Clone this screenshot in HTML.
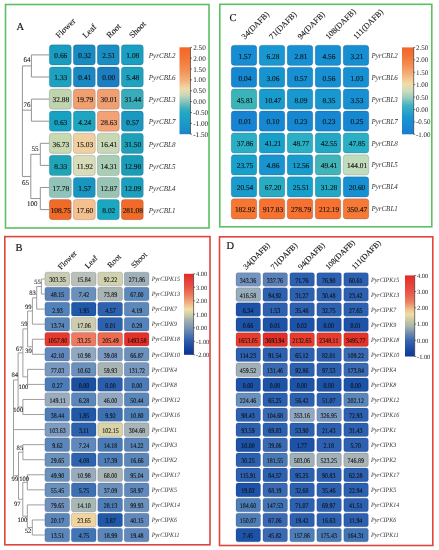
<!DOCTYPE html><html><head><meta charset="utf-8"><style>
html,body{margin:0;padding:0;background:#fff;width:439px;height:550px;overflow:hidden}
svg{display:block;font-family:"Liberation Serif", serif;text-rendering:geometricPrecision;filter:blur(0.35px)}
</style></head><body>
<svg width="439" height="550" viewBox="0 0 439 550">
<rect width="439" height="550" fill="#fff"/>
<rect x="5.5" y="4.5" width="203.5" height="223.5" fill="none" stroke="#5cc062" stroke-width="1.6"/>
<rect x="219.8" y="4.3" width="212" height="222.5" fill="none" stroke="#5cc062" stroke-width="1.6"/>
<rect x="4.8" y="236.6" width="205.2" height="308.2" fill="none" stroke="#e0443a" stroke-width="1.6"/>
<rect x="219.5" y="236.8" width="213.3" height="308.7" fill="none" stroke="#e0443a" stroke-width="1.6"/>
<text x="16.6" y="30.2" font-size="10.5" fill="#111" stroke="#111" stroke-width="0.15">A</text>
<text x="229.6" y="20.6" font-size="10.5" fill="#111" stroke="#111" stroke-width="0.15">C</text>
<text x="15.4" y="251.4" font-size="10.5" fill="#111" stroke="#111" stroke-width="0.15">B</text>
<text x="226.6" y="249.0" font-size="10.5" fill="#111" stroke="#111" stroke-width="0.15">D</text>
<rect x="49.30" y="44.80" width="22.0" height="20.2" rx="3" fill="#1a9cc0" stroke="rgba(0,20,60,0.2)" stroke-width="0.8"/>
<rect x="73.30" y="44.80" width="22.0" height="20.2" rx="3" fill="#188bc0" stroke="rgba(0,20,60,0.2)" stroke-width="0.8"/>
<rect x="97.30" y="44.80" width="22.0" height="20.2" rx="3" fill="#1a8ec2" stroke="rgba(0,20,60,0.2)" stroke-width="0.8"/>
<rect x="121.30" y="44.80" width="22.0" height="20.2" rx="3" fill="#1a9ec2" stroke="rgba(0,20,60,0.2)" stroke-width="0.8"/>
<rect x="49.30" y="66.90" width="22.0" height="20.2" rx="3" fill="#1ca2c0" stroke="rgba(0,20,60,0.2)" stroke-width="0.8"/>
<rect x="73.30" y="66.90" width="22.0" height="20.2" rx="3" fill="#1a88c2" stroke="rgba(0,20,60,0.2)" stroke-width="0.8"/>
<rect x="97.30" y="66.90" width="22.0" height="20.2" rx="3" fill="#1a7ec0" stroke="rgba(0,20,60,0.2)" stroke-width="0.8"/>
<rect x="121.30" y="66.90" width="22.0" height="20.2" rx="3" fill="#1ea2c0" stroke="rgba(0,20,60,0.2)" stroke-width="0.8"/>
<rect x="49.30" y="89.00" width="22.0" height="20.2" rx="3" fill="#c0d4b0" stroke="rgba(0,20,60,0.2)" stroke-width="0.8"/>
<rect x="73.30" y="89.00" width="22.0" height="20.2" rx="3" fill="#f0a070" stroke="rgba(0,20,60,0.2)" stroke-width="0.8"/>
<rect x="97.30" y="89.00" width="22.0" height="20.2" rx="3" fill="#f0a070" stroke="rgba(0,20,60,0.2)" stroke-width="0.8"/>
<rect x="121.30" y="89.00" width="22.0" height="20.2" rx="3" fill="#38acb8" stroke="rgba(0,20,60,0.2)" stroke-width="0.8"/>
<rect x="49.30" y="111.10" width="22.0" height="20.2" rx="3" fill="#18a2c2" stroke="rgba(0,20,60,0.2)" stroke-width="0.8"/>
<rect x="73.30" y="111.10" width="22.0" height="20.2" rx="3" fill="#1ea6c0" stroke="rgba(0,20,60,0.2)" stroke-width="0.8"/>
<rect x="97.30" y="111.10" width="22.0" height="20.2" rx="3" fill="#f2a274" stroke="rgba(0,20,60,0.2)" stroke-width="0.8"/>
<rect x="121.30" y="111.10" width="22.0" height="20.2" rx="3" fill="#1a98c0" stroke="rgba(0,20,60,0.2)" stroke-width="0.8"/>
<rect x="49.30" y="133.20" width="22.0" height="20.2" rx="3" fill="#c8d8b0" stroke="rgba(0,20,60,0.2)" stroke-width="0.8"/>
<rect x="73.30" y="133.20" width="22.0" height="20.2" rx="3" fill="#f0d0a0" stroke="rgba(0,20,60,0.2)" stroke-width="0.8"/>
<rect x="97.30" y="133.20" width="22.0" height="20.2" rx="3" fill="#c8d8b4" stroke="rgba(0,20,60,0.2)" stroke-width="0.8"/>
<rect x="121.30" y="133.20" width="22.0" height="20.2" rx="3" fill="#1ea0b8" stroke="rgba(0,20,60,0.2)" stroke-width="0.8"/>
<rect x="49.30" y="155.30" width="22.0" height="20.2" rx="3" fill="#20a4b8" stroke="rgba(0,20,60,0.2)" stroke-width="0.8"/>
<rect x="73.30" y="155.30" width="22.0" height="20.2" rx="3" fill="#d8dcb8" stroke="rgba(0,20,60,0.2)" stroke-width="0.8"/>
<rect x="97.30" y="155.30" width="22.0" height="20.2" rx="3" fill="#a8ccb4" stroke="rgba(0,20,60,0.2)" stroke-width="0.8"/>
<rect x="121.30" y="155.30" width="22.0" height="20.2" rx="3" fill="#189cb8" stroke="rgba(0,20,60,0.2)" stroke-width="0.8"/>
<rect x="49.30" y="177.40" width="22.0" height="20.2" rx="3" fill="#90c4b8" stroke="rgba(0,20,60,0.2)" stroke-width="0.8"/>
<rect x="73.30" y="177.40" width="22.0" height="20.2" rx="3" fill="#1896c0" stroke="rgba(0,20,60,0.2)" stroke-width="0.8"/>
<rect x="97.30" y="177.40" width="22.0" height="20.2" rx="3" fill="#98c4b4" stroke="rgba(0,20,60,0.2)" stroke-width="0.8"/>
<rect x="121.30" y="177.40" width="22.0" height="20.2" rx="3" fill="#1aa0bc" stroke="rgba(0,20,60,0.2)" stroke-width="0.8"/>
<rect x="49.30" y="199.50" width="22.0" height="20.2" rx="3" fill="#f06a28" stroke="rgba(0,20,60,0.2)" stroke-width="0.8"/>
<rect x="73.30" y="199.50" width="22.0" height="20.2" rx="3" fill="#f4c090" stroke="rgba(0,20,60,0.2)" stroke-width="0.8"/>
<rect x="97.30" y="199.50" width="22.0" height="20.2" rx="3" fill="#1aa8c0" stroke="rgba(0,20,60,0.2)" stroke-width="0.8"/>
<rect x="121.30" y="199.50" width="22.0" height="20.2" rx="3" fill="#f06a28" stroke="rgba(0,20,60,0.2)" stroke-width="0.8"/>
<text transform="translate(60.80 58.28) scale(0.97 1)" font-size="7.6" text-anchor="middle" fill="#111" stroke="#111" stroke-width="0.12">0.66</text>
<text transform="translate(84.80 58.28) scale(0.97 1)" font-size="7.6" text-anchor="middle" fill="#111" stroke="#111" stroke-width="0.12">0.32</text>
<text transform="translate(108.80 58.28) scale(0.97 1)" font-size="7.6" text-anchor="middle" fill="#111" stroke="#111" stroke-width="0.12">2.51</text>
<text transform="translate(132.80 58.28) scale(0.97 1)" font-size="7.6" text-anchor="middle" fill="#111" stroke="#111" stroke-width="0.12">1.08</text>
<text transform="translate(60.80 80.38) scale(0.97 1)" font-size="7.6" text-anchor="middle" fill="#111" stroke="#111" stroke-width="0.12">1.33</text>
<text transform="translate(84.80 80.38) scale(0.97 1)" font-size="7.6" text-anchor="middle" fill="#111" stroke="#111" stroke-width="0.12">0.41</text>
<text transform="translate(108.80 80.38) scale(0.97 1)" font-size="7.6" text-anchor="middle" fill="#111" stroke="#111" stroke-width="0.12">0.00</text>
<text transform="translate(132.80 80.38) scale(0.97 1)" font-size="7.6" text-anchor="middle" fill="#111" stroke="#111" stroke-width="0.12">5.48</text>
<text transform="translate(60.80 102.48) scale(0.97 1)" font-size="7.6" text-anchor="middle" fill="#111" stroke="#111" stroke-width="0.12">32.88</text>
<text transform="translate(84.80 102.48) scale(0.97 1)" font-size="7.6" text-anchor="middle" fill="#111" stroke="#111" stroke-width="0.12">19.79</text>
<text transform="translate(108.80 102.48) scale(0.97 1)" font-size="7.6" text-anchor="middle" fill="#111" stroke="#111" stroke-width="0.12">30.01</text>
<text transform="translate(132.80 102.48) scale(0.97 1)" font-size="7.6" text-anchor="middle" fill="#111" stroke="#111" stroke-width="0.12">31.44</text>
<text transform="translate(60.80 124.58) scale(0.97 1)" font-size="7.6" text-anchor="middle" fill="#111" stroke="#111" stroke-width="0.12">0.63</text>
<text transform="translate(84.80 124.58) scale(0.97 1)" font-size="7.6" text-anchor="middle" fill="#111" stroke="#111" stroke-width="0.12">4.24</text>
<text transform="translate(108.80 124.58) scale(0.97 1)" font-size="7.6" text-anchor="middle" fill="#111" stroke="#111" stroke-width="0.12">28.63</text>
<text transform="translate(132.80 124.58) scale(0.97 1)" font-size="7.6" text-anchor="middle" fill="#111" stroke="#111" stroke-width="0.12">0.57</text>
<text transform="translate(60.80 146.68) scale(0.97 1)" font-size="7.6" text-anchor="middle" fill="#111" stroke="#111" stroke-width="0.12">36.73</text>
<text transform="translate(84.80 146.68) scale(0.97 1)" font-size="7.6" text-anchor="middle" fill="#111" stroke="#111" stroke-width="0.12">15.03</text>
<text transform="translate(108.80 146.68) scale(0.97 1)" font-size="7.6" text-anchor="middle" fill="#111" stroke="#111" stroke-width="0.12">16.41</text>
<text transform="translate(132.80 146.68) scale(0.97 1)" font-size="7.6" text-anchor="middle" fill="#111" stroke="#111" stroke-width="0.12">31.50</text>
<text transform="translate(60.80 168.78) scale(0.97 1)" font-size="7.6" text-anchor="middle" fill="#111" stroke="#111" stroke-width="0.12">8.33</text>
<text transform="translate(84.80 168.78) scale(0.97 1)" font-size="7.6" text-anchor="middle" fill="#111" stroke="#111" stroke-width="0.12">11.92</text>
<text transform="translate(108.80 168.78) scale(0.97 1)" font-size="7.6" text-anchor="middle" fill="#111" stroke="#111" stroke-width="0.12">14.31</text>
<text transform="translate(132.80 168.78) scale(0.97 1)" font-size="7.6" text-anchor="middle" fill="#111" stroke="#111" stroke-width="0.12">12.98</text>
<text transform="translate(60.80 190.88) scale(0.97 1)" font-size="7.6" text-anchor="middle" fill="#111" stroke="#111" stroke-width="0.12">17.78</text>
<text transform="translate(84.80 190.88) scale(0.97 1)" font-size="7.6" text-anchor="middle" fill="#111" stroke="#111" stroke-width="0.12">1.57</text>
<text transform="translate(108.80 190.88) scale(0.97 1)" font-size="7.6" text-anchor="middle" fill="#111" stroke="#111" stroke-width="0.12">12.87</text>
<text transform="translate(132.80 190.88) scale(0.97 1)" font-size="7.6" text-anchor="middle" fill="#111" stroke="#111" stroke-width="0.12">12.09</text>
<text transform="translate(60.80 212.98) scale(0.97 1)" font-size="7.6" text-anchor="middle" fill="#111" stroke="#111" stroke-width="0.12">108.75</text>
<text transform="translate(84.80 212.98) scale(0.97 1)" font-size="7.6" text-anchor="middle" fill="#111" stroke="#111" stroke-width="0.12">17.60</text>
<text transform="translate(108.80 212.98) scale(0.97 1)" font-size="7.6" text-anchor="middle" fill="#111" stroke="#111" stroke-width="0.12">8.02</text>
<text transform="translate(132.80 212.98) scale(0.97 1)" font-size="7.6" text-anchor="middle" fill="#111" stroke="#111" stroke-width="0.12">281.08</text>
<text transform="translate(148.8 58.10) scale(0.94 1)" font-size="7.5" font-style="italic" fill="#333">PyrCBL2</text>
<text transform="translate(148.8 80.20) scale(0.94 1)" font-size="7.5" font-style="italic" fill="#333">PyrCBL6</text>
<text transform="translate(148.8 102.30) scale(0.94 1)" font-size="7.5" font-style="italic" fill="#333">PyrCBL3</text>
<text transform="translate(148.8 124.40) scale(0.94 1)" font-size="7.5" font-style="italic" fill="#333">PyrCBL7</text>
<text transform="translate(148.8 146.50) scale(0.94 1)" font-size="7.5" font-style="italic" fill="#333">PyrCBL8</text>
<text transform="translate(148.8 168.60) scale(0.94 1)" font-size="7.5" font-style="italic" fill="#333">PyrCBL5</text>
<text transform="translate(148.8 190.70) scale(0.94 1)" font-size="7.5" font-style="italic" fill="#333">PyrCBL4</text>
<text transform="translate(148.8 212.80) scale(0.94 1)" font-size="7.5" font-style="italic" fill="#333">PyrCBL1</text>
<text x="59.10" y="38.60" font-size="8.5" transform="rotate(-45 59.10 38.60)" fill="#111" stroke="#111" stroke-width="0.1">Flower</text>
<text x="85.80" y="38.60" font-size="8.5" transform="rotate(-45 85.80 38.60)" fill="#111" stroke="#111" stroke-width="0.1">Leaf</text>
<text x="109.80" y="38.60" font-size="8.5" transform="rotate(-45 109.80 38.60)" fill="#111" stroke="#111" stroke-width="0.1">Root</text>
<text x="132.40" y="38.60" font-size="8.5" transform="rotate(-45 132.40 38.60)" fill="#111" stroke="#111" stroke-width="0.1">Shoot</text>
<defs><linearGradient id="gA" x1="0" y1="0" x2="0" y2="1">
<stop offset="0" stop-color="#f46428"/>
<stop offset="0.12" stop-color="#f47434"/>
<stop offset="0.25" stop-color="#f48c50"/>
<stop offset="0.38" stop-color="#f4b07c"/>
<stop offset="0.48" stop-color="#eedca8"/>
<stop offset="0.55" stop-color="#c8d8b8"/>
<stop offset="0.625" stop-color="#88c4b8"/>
<stop offset="0.7" stop-color="#40b0c0"/>
<stop offset="0.75" stop-color="#20a8c4"/>
<stop offset="0.875" stop-color="#1a9ac8"/>
<stop offset="1" stop-color="#1a84c8"/>
</linearGradient></defs>
<rect x="179.5" y="47.3" width="11" height="86.89999999999999" fill="url(#gA)"/>
<line x1="190.50" y1="47.3" x2="190.50" y2="134.2" stroke="#222" stroke-width="0.6"/>
<line x1="190.50" y1="47.30" x2="192.00" y2="47.30" stroke="#222" stroke-width="0.6"/>
<text x="193.2" y="49.82" font-size="7.2" fill="#222">2.50</text>
<line x1="190.50" y1="58.16" x2="192.00" y2="58.16" stroke="#222" stroke-width="0.6"/>
<text x="193.2" y="60.68" font-size="7.2" fill="#222">2.00</text>
<line x1="190.50" y1="69.02" x2="192.00" y2="69.02" stroke="#222" stroke-width="0.6"/>
<text x="193.2" y="71.54" font-size="7.2" fill="#222">1.50</text>
<line x1="190.50" y1="79.89" x2="192.00" y2="79.89" stroke="#222" stroke-width="0.6"/>
<text x="193.2" y="82.41" font-size="7.2" fill="#222">1.00</text>
<line x1="190.50" y1="90.75" x2="192.00" y2="90.75" stroke="#222" stroke-width="0.6"/>
<text x="193.2" y="93.27" font-size="7.2" fill="#222">0.50</text>
<line x1="190.50" y1="101.61" x2="192.00" y2="101.61" stroke="#222" stroke-width="0.6"/>
<text x="193.2" y="104.13" font-size="7.2" fill="#222">0.00</text>
<line x1="190.50" y1="112.47" x2="192.00" y2="112.47" stroke="#222" stroke-width="0.6"/>
<text x="193.2" y="114.99" font-size="7.2" fill="#222">-0.50</text>
<line x1="190.50" y1="123.34" x2="192.00" y2="123.34" stroke="#222" stroke-width="0.6"/>
<text x="193.2" y="125.86" font-size="7.2" fill="#222">-1.00</text>
<line x1="190.50" y1="134.20" x2="192.00" y2="134.20" stroke="#222" stroke-width="0.6"/>
<text x="193.2" y="136.72" font-size="7.2" fill="#222">-1.50</text>
<g stroke="#939393" stroke-width="1" fill="none">
<line x1="31.40" y1="54.90" x2="49.30" y2="54.90"/>
<line x1="31.40" y1="77.00" x2="49.30" y2="77.00"/>
<line x1="31.40" y1="54.90" x2="31.40" y2="77.00"/>
<line x1="22.40" y1="65.95" x2="31.40" y2="65.95"/>
<line x1="31.40" y1="99.10" x2="49.30" y2="99.10"/>
<line x1="31.40" y1="121.20" x2="49.30" y2="121.20"/>
<line x1="31.40" y1="99.10" x2="31.40" y2="121.20"/>
<line x1="22.40" y1="110.15" x2="31.40" y2="110.15"/>
<line x1="40.30" y1="143.30" x2="49.30" y2="143.30"/>
<line x1="40.30" y1="165.40" x2="49.30" y2="165.40"/>
<line x1="40.30" y1="143.30" x2="40.30" y2="165.40"/>
<line x1="30.80" y1="154.35" x2="40.30" y2="154.35"/>
<line x1="40.30" y1="187.50" x2="49.30" y2="187.50"/>
<line x1="40.30" y1="209.60" x2="49.30" y2="209.60"/>
<line x1="40.30" y1="187.50" x2="40.30" y2="209.60"/>
<line x1="30.80" y1="198.55" x2="40.30" y2="198.55"/>
<line x1="30.80" y1="154.35" x2="30.80" y2="198.55"/>
<line x1="22.40" y1="176.45" x2="30.80" y2="176.45"/>
<line x1="22.40" y1="65.95" x2="22.40" y2="176.45"/>
</g>
<text x="30.40" y="61.65" font-size="7" text-anchor="end" fill="#111" stroke="#111" stroke-width="0.08">64</text>
<text x="30.40" y="106.95" font-size="7" text-anchor="end" fill="#111" stroke="#111" stroke-width="0.08">76</text>
<text x="38.60" y="150.75" font-size="7" text-anchor="end" fill="#111" stroke="#111" stroke-width="0.08">55</text>
<text x="29.00" y="185.45" font-size="7" text-anchor="end" fill="#111" stroke="#111" stroke-width="0.08">65</text>
<text x="37.60" y="206.45" font-size="7" text-anchor="end" fill="#111" stroke="#111" stroke-width="0.08">100</text>
<rect x="231.20" y="45.20" width="25.6" height="20.2" rx="3" fill="#168cd2" stroke="rgba(0,20,60,0.2)" stroke-width="0.8"/>
<rect x="259.20" y="45.20" width="25.6" height="20.2" rx="3" fill="#1898d0" stroke="rgba(0,20,60,0.2)" stroke-width="0.8"/>
<rect x="287.20" y="45.20" width="25.6" height="20.2" rx="3" fill="#1690d2" stroke="rgba(0,20,60,0.2)" stroke-width="0.8"/>
<rect x="315.20" y="45.20" width="25.6" height="20.2" rx="3" fill="#1690d2" stroke="rgba(0,20,60,0.2)" stroke-width="0.8"/>
<rect x="343.20" y="45.20" width="25.6" height="20.2" rx="3" fill="#168ed2" stroke="rgba(0,20,60,0.2)" stroke-width="0.8"/>
<rect x="231.20" y="67.13" width="25.6" height="20.2" rx="3" fill="#1688d2" stroke="rgba(0,20,60,0.2)" stroke-width="0.8"/>
<rect x="259.20" y="67.13" width="25.6" height="20.2" rx="3" fill="#1694d0" stroke="rgba(0,20,60,0.2)" stroke-width="0.8"/>
<rect x="287.20" y="67.13" width="25.6" height="20.2" rx="3" fill="#1690d2" stroke="rgba(0,20,60,0.2)" stroke-width="0.8"/>
<rect x="315.20" y="67.13" width="25.6" height="20.2" rx="3" fill="#1690d2" stroke="rgba(0,20,60,0.2)" stroke-width="0.8"/>
<rect x="343.20" y="67.13" width="25.6" height="20.2" rx="3" fill="#1690d2" stroke="rgba(0,20,60,0.2)" stroke-width="0.8"/>
<rect x="231.20" y="89.06" width="25.6" height="20.2" rx="3" fill="#3ab4b8" stroke="rgba(0,20,60,0.2)" stroke-width="0.8"/>
<rect x="259.20" y="89.06" width="25.6" height="20.2" rx="3" fill="#189cce" stroke="rgba(0,20,60,0.2)" stroke-width="0.8"/>
<rect x="287.20" y="89.06" width="25.6" height="20.2" rx="3" fill="#1898d0" stroke="rgba(0,20,60,0.2)" stroke-width="0.8"/>
<rect x="315.20" y="89.06" width="25.6" height="20.2" rx="3" fill="#1898d0" stroke="rgba(0,20,60,0.2)" stroke-width="0.8"/>
<rect x="343.20" y="89.06" width="25.6" height="20.2" rx="3" fill="#1690d2" stroke="rgba(0,20,60,0.2)" stroke-width="0.8"/>
<rect x="231.20" y="110.99" width="25.6" height="20.2" rx="3" fill="#1684d2" stroke="rgba(0,20,60,0.2)" stroke-width="0.8"/>
<rect x="259.20" y="110.99" width="25.6" height="20.2" rx="3" fill="#1688d2" stroke="rgba(0,20,60,0.2)" stroke-width="0.8"/>
<rect x="287.20" y="110.99" width="25.6" height="20.2" rx="3" fill="#1688d2" stroke="rgba(0,20,60,0.2)" stroke-width="0.8"/>
<rect x="315.20" y="110.99" width="25.6" height="20.2" rx="3" fill="#1688d2" stroke="rgba(0,20,60,0.2)" stroke-width="0.8"/>
<rect x="343.20" y="110.99" width="25.6" height="20.2" rx="3" fill="#1688d2" stroke="rgba(0,20,60,0.2)" stroke-width="0.8"/>
<rect x="231.20" y="132.92" width="25.6" height="20.2" rx="3" fill="#2aaec4" stroke="rgba(0,20,60,0.2)" stroke-width="0.8"/>
<rect x="259.20" y="132.92" width="25.6" height="20.2" rx="3" fill="#18a0cc" stroke="rgba(0,20,60,0.2)" stroke-width="0.8"/>
<rect x="287.20" y="132.92" width="25.6" height="20.2" rx="3" fill="#2ab0c4" stroke="rgba(0,20,60,0.2)" stroke-width="0.8"/>
<rect x="315.20" y="132.92" width="25.6" height="20.2" rx="3" fill="#22a8c4" stroke="rgba(0,20,60,0.2)" stroke-width="0.8"/>
<rect x="343.20" y="132.92" width="25.6" height="20.2" rx="3" fill="#2ab0c4" stroke="rgba(0,20,60,0.2)" stroke-width="0.8"/>
<rect x="231.20" y="154.85" width="25.6" height="20.2" rx="3" fill="#18a0cc" stroke="rgba(0,20,60,0.2)" stroke-width="0.8"/>
<rect x="259.20" y="154.85" width="25.6" height="20.2" rx="3" fill="#1894d0" stroke="rgba(0,20,60,0.2)" stroke-width="0.8"/>
<rect x="287.20" y="154.85" width="25.6" height="20.2" rx="3" fill="#189cce" stroke="rgba(0,20,60,0.2)" stroke-width="0.8"/>
<rect x="315.20" y="154.85" width="25.6" height="20.2" rx="3" fill="#40b4b8" stroke="rgba(0,20,60,0.2)" stroke-width="0.8"/>
<rect x="343.20" y="154.85" width="25.6" height="20.2" rx="3" fill="#c0dcbc" stroke="rgba(0,20,60,0.2)" stroke-width="0.8"/>
<rect x="231.20" y="176.78" width="25.6" height="20.2" rx="3" fill="#189cce" stroke="rgba(0,20,60,0.2)" stroke-width="0.8"/>
<rect x="259.20" y="176.78" width="25.6" height="20.2" rx="3" fill="#28acc4" stroke="rgba(0,20,60,0.2)" stroke-width="0.8"/>
<rect x="287.20" y="176.78" width="25.6" height="20.2" rx="3" fill="#18a0cc" stroke="rgba(0,20,60,0.2)" stroke-width="0.8"/>
<rect x="315.20" y="176.78" width="25.6" height="20.2" rx="3" fill="#22a8c4" stroke="rgba(0,20,60,0.2)" stroke-width="0.8"/>
<rect x="343.20" y="176.78" width="25.6" height="20.2" rx="3" fill="#1690d2" stroke="rgba(0,20,60,0.2)" stroke-width="0.8"/>
<rect x="231.20" y="198.71" width="25.6" height="20.2" rx="3" fill="#f67632" stroke="rgba(0,20,60,0.2)" stroke-width="0.8"/>
<rect x="259.20" y="198.71" width="25.6" height="20.2" rx="3" fill="#f77230" stroke="rgba(0,20,60,0.2)" stroke-width="0.8"/>
<rect x="287.20" y="198.71" width="25.6" height="20.2" rx="3" fill="#f77230" stroke="rgba(0,20,60,0.2)" stroke-width="0.8"/>
<rect x="315.20" y="198.71" width="25.6" height="20.2" rx="3" fill="#f77230" stroke="rgba(0,20,60,0.2)" stroke-width="0.8"/>
<rect x="343.20" y="198.71" width="25.6" height="20.2" rx="3" fill="#f67a36" stroke="rgba(0,20,60,0.2)" stroke-width="0.8"/>
<text transform="translate(245.00 58.68) scale(0.97 1)" font-size="7.6" text-anchor="middle" fill="#111" stroke="#111" stroke-width="0.12">1.57</text>
<text transform="translate(273.00 58.68) scale(0.97 1)" font-size="7.6" text-anchor="middle" fill="#111" stroke="#111" stroke-width="0.12">6.28</text>
<text transform="translate(301.00 58.68) scale(0.97 1)" font-size="7.6" text-anchor="middle" fill="#111" stroke="#111" stroke-width="0.12">2.81</text>
<text transform="translate(329.00 58.68) scale(0.97 1)" font-size="7.6" text-anchor="middle" fill="#111" stroke="#111" stroke-width="0.12">4.56</text>
<text transform="translate(357.00 58.68) scale(0.97 1)" font-size="7.6" text-anchor="middle" fill="#111" stroke="#111" stroke-width="0.12">3.21</text>
<text transform="translate(245.00 80.61) scale(0.97 1)" font-size="7.6" text-anchor="middle" fill="#111" stroke="#111" stroke-width="0.12">0.04</text>
<text transform="translate(273.00 80.61) scale(0.97 1)" font-size="7.6" text-anchor="middle" fill="#111" stroke="#111" stroke-width="0.12">3.06</text>
<text transform="translate(301.00 80.61) scale(0.97 1)" font-size="7.6" text-anchor="middle" fill="#111" stroke="#111" stroke-width="0.12">0.57</text>
<text transform="translate(329.00 80.61) scale(0.97 1)" font-size="7.6" text-anchor="middle" fill="#111" stroke="#111" stroke-width="0.12">0.56</text>
<text transform="translate(357.00 80.61) scale(0.97 1)" font-size="7.6" text-anchor="middle" fill="#111" stroke="#111" stroke-width="0.12">1.03</text>
<text transform="translate(245.00 102.54) scale(0.97 1)" font-size="7.6" text-anchor="middle" fill="#111" stroke="#111" stroke-width="0.12">45.81</text>
<text transform="translate(273.00 102.54) scale(0.97 1)" font-size="7.6" text-anchor="middle" fill="#111" stroke="#111" stroke-width="0.12">10.47</text>
<text transform="translate(301.00 102.54) scale(0.97 1)" font-size="7.6" text-anchor="middle" fill="#111" stroke="#111" stroke-width="0.12">8.09</text>
<text transform="translate(329.00 102.54) scale(0.97 1)" font-size="7.6" text-anchor="middle" fill="#111" stroke="#111" stroke-width="0.12">8.35</text>
<text transform="translate(357.00 102.54) scale(0.97 1)" font-size="7.6" text-anchor="middle" fill="#111" stroke="#111" stroke-width="0.12">3.53</text>
<text transform="translate(245.00 124.47) scale(0.97 1)" font-size="7.6" text-anchor="middle" fill="#111" stroke="#111" stroke-width="0.12">0.01</text>
<text transform="translate(273.00 124.47) scale(0.97 1)" font-size="7.6" text-anchor="middle" fill="#111" stroke="#111" stroke-width="0.12">0.10</text>
<text transform="translate(301.00 124.47) scale(0.97 1)" font-size="7.6" text-anchor="middle" fill="#111" stroke="#111" stroke-width="0.12">0.23</text>
<text transform="translate(329.00 124.47) scale(0.97 1)" font-size="7.6" text-anchor="middle" fill="#111" stroke="#111" stroke-width="0.12">0.23</text>
<text transform="translate(357.00 124.47) scale(0.97 1)" font-size="7.6" text-anchor="middle" fill="#111" stroke="#111" stroke-width="0.12">0.25</text>
<text transform="translate(245.00 146.40) scale(0.97 1)" font-size="7.6" text-anchor="middle" fill="#111" stroke="#111" stroke-width="0.12">37.86</text>
<text transform="translate(273.00 146.40) scale(0.97 1)" font-size="7.6" text-anchor="middle" fill="#111" stroke="#111" stroke-width="0.12">41.21</text>
<text transform="translate(301.00 146.40) scale(0.97 1)" font-size="7.6" text-anchor="middle" fill="#111" stroke="#111" stroke-width="0.12">48.77</text>
<text transform="translate(329.00 146.40) scale(0.97 1)" font-size="7.6" text-anchor="middle" fill="#111" stroke="#111" stroke-width="0.12">42.55</text>
<text transform="translate(357.00 146.40) scale(0.97 1)" font-size="7.6" text-anchor="middle" fill="#111" stroke="#111" stroke-width="0.12">47.85</text>
<text transform="translate(245.00 168.33) scale(0.97 1)" font-size="7.6" text-anchor="middle" fill="#111" stroke="#111" stroke-width="0.12">23.75</text>
<text transform="translate(273.00 168.33) scale(0.97 1)" font-size="7.6" text-anchor="middle" fill="#111" stroke="#111" stroke-width="0.12">4.86</text>
<text transform="translate(301.00 168.33) scale(0.97 1)" font-size="7.6" text-anchor="middle" fill="#111" stroke="#111" stroke-width="0.12">12.56</text>
<text transform="translate(329.00 168.33) scale(0.97 1)" font-size="7.6" text-anchor="middle" fill="#111" stroke="#111" stroke-width="0.12">49.41</text>
<text transform="translate(357.00 168.33) scale(0.97 1)" font-size="7.6" text-anchor="middle" fill="#111" stroke="#111" stroke-width="0.12">144.01</text>
<text transform="translate(245.00 190.26) scale(0.97 1)" font-size="7.6" text-anchor="middle" fill="#111" stroke="#111" stroke-width="0.12">20.54</text>
<text transform="translate(273.00 190.26) scale(0.97 1)" font-size="7.6" text-anchor="middle" fill="#111" stroke="#111" stroke-width="0.12">67.20</text>
<text transform="translate(301.00 190.26) scale(0.97 1)" font-size="7.6" text-anchor="middle" fill="#111" stroke="#111" stroke-width="0.12">25.51</text>
<text transform="translate(329.00 190.26) scale(0.97 1)" font-size="7.6" text-anchor="middle" fill="#111" stroke="#111" stroke-width="0.12">31.28</text>
<text transform="translate(357.00 190.26) scale(0.97 1)" font-size="7.6" text-anchor="middle" fill="#111" stroke="#111" stroke-width="0.12">20.60</text>
<text transform="translate(245.00 212.19) scale(0.97 1)" font-size="7.6" text-anchor="middle" fill="#111" stroke="#111" stroke-width="0.12">182.92</text>
<text transform="translate(273.00 212.19) scale(0.97 1)" font-size="7.6" text-anchor="middle" fill="#111" stroke="#111" stroke-width="0.12">917.83</text>
<text transform="translate(301.00 212.19) scale(0.97 1)" font-size="7.6" text-anchor="middle" fill="#111" stroke="#111" stroke-width="0.12">278.79</text>
<text transform="translate(329.00 212.19) scale(0.97 1)" font-size="7.6" text-anchor="middle" fill="#111" stroke="#111" stroke-width="0.12">212.19</text>
<text transform="translate(357.00 212.19) scale(0.97 1)" font-size="7.6" text-anchor="middle" fill="#111" stroke="#111" stroke-width="0.12">350.47</text>
<text transform="translate(371.4 57.80) scale(0.93 1)" font-size="7.5" font-style="italic" fill="#333">PyrCBL2</text>
<text transform="translate(371.4 79.73) scale(0.93 1)" font-size="7.5" font-style="italic" fill="#333">PyrCBL6</text>
<text transform="translate(371.4 101.66) scale(0.93 1)" font-size="7.5" font-style="italic" fill="#333">PyrCBL3</text>
<text transform="translate(371.4 123.59) scale(0.93 1)" font-size="7.5" font-style="italic" fill="#333">PyrCBL7</text>
<text transform="translate(371.4 145.52) scale(0.93 1)" font-size="7.5" font-style="italic" fill="#333">PyrCBL8</text>
<text transform="translate(371.4 167.45) scale(0.93 1)" font-size="7.5" font-style="italic" fill="#333">PyrCBL5</text>
<text transform="translate(371.4 189.38) scale(0.93 1)" font-size="7.5" font-style="italic" fill="#333">PyrCBL4</text>
<text transform="translate(371.4 211.31) scale(0.93 1)" font-size="7.5" font-style="italic" fill="#333">PyrCBL1</text>
<text x="244.80" y="39.70" font-size="8.1" transform="rotate(-45 244.80 39.70)" fill="#111" stroke="#111" stroke-width="0.1">34(DAFB)</text>
<text x="272.30" y="39.70" font-size="8.1" transform="rotate(-45 272.30 39.70)" fill="#111" stroke="#111" stroke-width="0.1">71(DAFB)</text>
<text x="300.70" y="39.70" font-size="8.1" transform="rotate(-45 300.70 39.70)" fill="#111" stroke="#111" stroke-width="0.1">94(DAFB)</text>
<text x="328.70" y="39.70" font-size="8.1" transform="rotate(-45 328.70 39.70)" fill="#111" stroke="#111" stroke-width="0.1">108(DAFB)</text>
<text x="356.40" y="39.70" font-size="8.1" transform="rotate(-45 356.40 39.70)" fill="#111" stroke="#111" stroke-width="0.1">111(DAFB)</text>
<defs><linearGradient id="gC" x1="0" y1="0" x2="0" y2="1">
<stop offset="0" stop-color="#f46428"/>
<stop offset="0.1" stop-color="#f47434"/>
<stop offset="0.2" stop-color="#f48c50"/>
<stop offset="0.31" stop-color="#f4b07c"/>
<stop offset="0.42" stop-color="#f0dca8"/>
<stop offset="0.5" stop-color="#d0dcbc"/>
<stop offset="0.58" stop-color="#98ccc0"/>
<stop offset="0.67" stop-color="#40b0c4"/>
<stop offset="0.8" stop-color="#1a98d0"/>
<stop offset="1" stop-color="#1a7cd0"/>
</linearGradient></defs>
<rect x="402.0" y="47.4" width="11.7" height="86.9" fill="url(#gC)"/>
<line x1="413.70" y1="47.4" x2="413.70" y2="134.3" stroke="#222" stroke-width="0.6"/>
<line x1="413.70" y1="47.40" x2="415.20" y2="47.40" stroke="#222" stroke-width="0.6"/>
<text x="416" y="49.85" font-size="7" fill="#222">2.50</text>
<line x1="413.70" y1="59.81" x2="415.20" y2="59.81" stroke="#222" stroke-width="0.6"/>
<text x="416" y="62.26" font-size="7" fill="#222">2.00</text>
<line x1="413.70" y1="72.23" x2="415.20" y2="72.23" stroke="#222" stroke-width="0.6"/>
<text x="416" y="74.68" font-size="7" fill="#222">1.50</text>
<line x1="413.70" y1="84.64" x2="415.20" y2="84.64" stroke="#222" stroke-width="0.6"/>
<text x="416" y="87.09" font-size="7" fill="#222">1.00</text>
<line x1="413.70" y1="97.06" x2="415.20" y2="97.06" stroke="#222" stroke-width="0.6"/>
<text x="416" y="99.51" font-size="7" fill="#222">0.50</text>
<line x1="413.70" y1="109.47" x2="415.20" y2="109.47" stroke="#222" stroke-width="0.6"/>
<text x="416" y="111.92" font-size="7" fill="#222">0.00</text>
<line x1="413.70" y1="121.89" x2="415.20" y2="121.89" stroke="#222" stroke-width="0.6"/>
<text x="416" y="124.34" font-size="7" fill="#222">-0.50</text>
<line x1="413.70" y1="134.30" x2="415.20" y2="134.30" stroke="#222" stroke-width="0.6"/>
<text x="416" y="136.75" font-size="7" fill="#222">-1.00</text>
<rect x="44.90" y="272.20" width="24.7" height="13.6" rx="2" fill="#c8ccb2" stroke="rgba(0,20,60,0.2)" stroke-width="0.8"/>
<rect x="71.35" y="272.20" width="24.7" height="13.6" rx="2" fill="#b8c0b8" stroke="rgba(0,20,60,0.2)" stroke-width="0.8"/>
<rect x="97.80" y="272.20" width="24.7" height="13.6" rx="2" fill="#d0d2ae" stroke="rgba(0,20,60,0.2)" stroke-width="0.8"/>
<rect x="124.25" y="272.20" width="24.7" height="13.6" rx="2" fill="#a0b0b8" stroke="rgba(0,20,60,0.2)" stroke-width="0.8"/>
<rect x="44.90" y="287.26" width="24.7" height="13.6" rx="2" fill="#5a84b8" stroke="rgba(0,20,60,0.2)" stroke-width="0.8"/>
<rect x="71.35" y="287.26" width="24.7" height="13.6" rx="2" fill="#6a90bc" stroke="rgba(0,20,60,0.2)" stroke-width="0.8"/>
<rect x="97.80" y="287.26" width="24.7" height="13.6" rx="2" fill="#a8b4b4" stroke="rgba(0,20,60,0.2)" stroke-width="0.8"/>
<rect x="124.25" y="287.26" width="24.7" height="13.6" rx="2" fill="#5a88bc" stroke="rgba(0,20,60,0.2)" stroke-width="0.8"/>
<rect x="44.90" y="302.32" width="24.7" height="13.6" rx="2" fill="#5282ba" stroke="rgba(0,20,60,0.2)" stroke-width="0.8"/>
<rect x="71.35" y="302.32" width="24.7" height="13.6" rx="2" fill="#2058a8" stroke="rgba(0,20,60,0.2)" stroke-width="0.8"/>
<rect x="97.80" y="302.32" width="24.7" height="13.6" rx="2" fill="#2c62ae" stroke="rgba(0,20,60,0.2)" stroke-width="0.8"/>
<rect x="124.25" y="302.32" width="24.7" height="13.6" rx="2" fill="#5c88bc" stroke="rgba(0,20,60,0.2)" stroke-width="0.8"/>
<rect x="44.90" y="317.38" width="24.7" height="13.6" rx="2" fill="#5a86ba" stroke="rgba(0,20,60,0.2)" stroke-width="0.8"/>
<rect x="71.35" y="317.38" width="24.7" height="13.6" rx="2" fill="#ccccb0" stroke="rgba(0,20,60,0.2)" stroke-width="0.8"/>
<rect x="97.80" y="317.38" width="24.7" height="13.6" rx="2" fill="#2c62ae" stroke="rgba(0,20,60,0.2)" stroke-width="0.8"/>
<rect x="124.25" y="317.38" width="24.7" height="13.6" rx="2" fill="#5482ba" stroke="rgba(0,20,60,0.2)" stroke-width="0.8"/>
<rect x="44.90" y="332.44" width="24.7" height="13.6" rx="2" fill="#e83a2c" stroke="rgba(0,20,60,0.2)" stroke-width="0.8"/>
<rect x="71.35" y="332.44" width="24.7" height="13.6" rx="2" fill="#ee7a60" stroke="rgba(0,20,60,0.2)" stroke-width="0.8"/>
<rect x="97.80" y="332.44" width="24.7" height="13.6" rx="2" fill="#ec6a50" stroke="rgba(0,20,60,0.2)" stroke-width="0.8"/>
<rect x="124.25" y="332.44" width="24.7" height="13.6" rx="2" fill="#e43028" stroke="rgba(0,20,60,0.2)" stroke-width="0.8"/>
<rect x="44.90" y="347.50" width="24.7" height="13.6" rx="2" fill="#6088bc" stroke="rgba(0,20,60,0.2)" stroke-width="0.8"/>
<rect x="71.35" y="347.50" width="24.7" height="13.6" rx="2" fill="#90a8c0" stroke="rgba(0,20,60,0.2)" stroke-width="0.8"/>
<rect x="97.80" y="347.50" width="24.7" height="13.6" rx="2" fill="#7a98c0" stroke="rgba(0,20,60,0.2)" stroke-width="0.8"/>
<rect x="124.25" y="347.50" width="24.7" height="13.6" rx="2" fill="#6a90bc" stroke="rgba(0,20,60,0.2)" stroke-width="0.8"/>
<rect x="44.90" y="362.56" width="24.7" height="13.6" rx="2" fill="#7898c0" stroke="rgba(0,20,60,0.2)" stroke-width="0.8"/>
<rect x="71.35" y="362.56" width="24.7" height="13.6" rx="2" fill="#6a90bc" stroke="rgba(0,20,60,0.2)" stroke-width="0.8"/>
<rect x="97.80" y="362.56" width="24.7" height="13.6" rx="2" fill="#a8b4b4" stroke="rgba(0,20,60,0.2)" stroke-width="0.8"/>
<rect x="124.25" y="362.56" width="24.7" height="13.6" rx="2" fill="#7898c0" stroke="rgba(0,20,60,0.2)" stroke-width="0.8"/>
<rect x="44.90" y="377.62" width="24.7" height="13.6" rx="2" fill="#4c7cb8" stroke="rgba(0,20,60,0.2)" stroke-width="0.8"/>
<rect x="71.35" y="377.62" width="24.7" height="13.6" rx="2" fill="#1a50a0" stroke="rgba(0,20,60,0.2)" stroke-width="0.8"/>
<rect x="97.80" y="377.62" width="24.7" height="13.6" rx="2" fill="#2a5eac" stroke="rgba(0,20,60,0.2)" stroke-width="0.8"/>
<rect x="124.25" y="377.62" width="24.7" height="13.6" rx="2" fill="#4c7cb8" stroke="rgba(0,20,60,0.2)" stroke-width="0.8"/>
<rect x="44.90" y="392.68" width="24.7" height="13.6" rx="2" fill="#98acbc" stroke="rgba(0,20,60,0.2)" stroke-width="0.8"/>
<rect x="71.35" y="392.68" width="24.7" height="13.6" rx="2" fill="#5a86ba" stroke="rgba(0,20,60,0.2)" stroke-width="0.8"/>
<rect x="97.80" y="392.68" width="24.7" height="13.6" rx="2" fill="#90a8c0" stroke="rgba(0,20,60,0.2)" stroke-width="0.8"/>
<rect x="124.25" y="392.68" width="24.7" height="13.6" rx="2" fill="#5a86ba" stroke="rgba(0,20,60,0.2)" stroke-width="0.8"/>
<rect x="44.90" y="407.74" width="24.7" height="13.6" rx="2" fill="#4e7eb8" stroke="rgba(0,20,60,0.2)" stroke-width="0.8"/>
<rect x="71.35" y="407.74" width="24.7" height="13.6" rx="2" fill="#2058a8" stroke="rgba(0,20,60,0.2)" stroke-width="0.8"/>
<rect x="97.80" y="407.74" width="24.7" height="13.6" rx="2" fill="#3c70b2" stroke="rgba(0,20,60,0.2)" stroke-width="0.8"/>
<rect x="124.25" y="407.74" width="24.7" height="13.6" rx="2" fill="#5082ba" stroke="rgba(0,20,60,0.2)" stroke-width="0.8"/>
<rect x="44.90" y="422.80" width="24.7" height="13.6" rx="2" fill="#7e9cc0" stroke="rgba(0,20,60,0.2)" stroke-width="0.8"/>
<rect x="71.35" y="422.80" width="24.7" height="13.6" rx="2" fill="#2a60ac" stroke="rgba(0,20,60,0.2)" stroke-width="0.8"/>
<rect x="97.80" y="422.80" width="24.7" height="13.6" rx="2" fill="#d8d4a8" stroke="rgba(0,20,60,0.2)" stroke-width="0.8"/>
<rect x="124.25" y="422.80" width="24.7" height="13.6" rx="2" fill="#a8b4b8" stroke="rgba(0,20,60,0.2)" stroke-width="0.8"/>
<rect x="44.90" y="437.86" width="24.7" height="13.6" rx="2" fill="#5a86ba" stroke="rgba(0,20,60,0.2)" stroke-width="0.8"/>
<rect x="71.35" y="437.86" width="24.7" height="13.6" rx="2" fill="#6088bc" stroke="rgba(0,20,60,0.2)" stroke-width="0.8"/>
<rect x="97.80" y="437.86" width="24.7" height="13.6" rx="2" fill="#4a7ab6" stroke="rgba(0,20,60,0.2)" stroke-width="0.8"/>
<rect x="124.25" y="437.86" width="24.7" height="13.6" rx="2" fill="#5a86ba" stroke="rgba(0,20,60,0.2)" stroke-width="0.8"/>
<rect x="44.90" y="452.92" width="24.7" height="13.6" rx="2" fill="#6a90bc" stroke="rgba(0,20,60,0.2)" stroke-width="0.8"/>
<rect x="71.35" y="452.92" width="24.7" height="13.6" rx="2" fill="#2c62ae" stroke="rgba(0,20,60,0.2)" stroke-width="0.8"/>
<rect x="97.80" y="452.92" width="24.7" height="13.6" rx="2" fill="#4e7eb8" stroke="rgba(0,20,60,0.2)" stroke-width="0.8"/>
<rect x="124.25" y="452.92" width="24.7" height="13.6" rx="2" fill="#5a86ba" stroke="rgba(0,20,60,0.2)" stroke-width="0.8"/>
<rect x="44.90" y="467.98" width="24.7" height="13.6" rx="2" fill="#6a90bc" stroke="rgba(0,20,60,0.2)" stroke-width="0.8"/>
<rect x="71.35" y="467.98" width="24.7" height="13.6" rx="2" fill="#9aacbc" stroke="rgba(0,20,60,0.2)" stroke-width="0.8"/>
<rect x="97.80" y="467.98" width="24.7" height="13.6" rx="2" fill="#a8b4b4" stroke="rgba(0,20,60,0.2)" stroke-width="0.8"/>
<rect x="124.25" y="467.98" width="24.7" height="13.6" rx="2" fill="#6a90bc" stroke="rgba(0,20,60,0.2)" stroke-width="0.8"/>
<rect x="44.90" y="483.04" width="24.7" height="13.6" rx="2" fill="#6a90bc" stroke="rgba(0,20,60,0.2)" stroke-width="0.8"/>
<rect x="71.35" y="483.04" width="24.7" height="13.6" rx="2" fill="#3c70b2" stroke="rgba(0,20,60,0.2)" stroke-width="0.8"/>
<rect x="97.80" y="483.04" width="24.7" height="13.6" rx="2" fill="#6a90bc" stroke="rgba(0,20,60,0.2)" stroke-width="0.8"/>
<rect x="124.25" y="483.04" width="24.7" height="13.6" rx="2" fill="#6088bc" stroke="rgba(0,20,60,0.2)" stroke-width="0.8"/>
<rect x="44.90" y="498.10" width="24.7" height="13.6" rx="2" fill="#7090bc" stroke="rgba(0,20,60,0.2)" stroke-width="0.8"/>
<rect x="71.35" y="498.10" width="24.7" height="13.6" rx="2" fill="#a8b8b4" stroke="rgba(0,20,60,0.2)" stroke-width="0.8"/>
<rect x="97.80" y="498.10" width="24.7" height="13.6" rx="2" fill="#4e7eb8" stroke="rgba(0,20,60,0.2)" stroke-width="0.8"/>
<rect x="124.25" y="498.10" width="24.7" height="13.6" rx="2" fill="#6a90bc" stroke="rgba(0,20,60,0.2)" stroke-width="0.8"/>
<rect x="44.90" y="513.16" width="24.7" height="13.6" rx="2" fill="#5a86ba" stroke="rgba(0,20,60,0.2)" stroke-width="0.8"/>
<rect x="71.35" y="513.16" width="24.7" height="13.6" rx="2" fill="#f0d4a0" stroke="rgba(0,20,60,0.2)" stroke-width="0.8"/>
<rect x="97.80" y="513.16" width="24.7" height="13.6" rx="2" fill="#2058a8" stroke="rgba(0,20,60,0.2)" stroke-width="0.8"/>
<rect x="124.25" y="513.16" width="24.7" height="13.6" rx="2" fill="#6088bc" stroke="rgba(0,20,60,0.2)" stroke-width="0.8"/>
<rect x="44.90" y="528.22" width="24.7" height="13.6" rx="2" fill="#5a86ba" stroke="rgba(0,20,60,0.2)" stroke-width="0.8"/>
<rect x="71.35" y="528.22" width="24.7" height="13.6" rx="2" fill="#4074b4" stroke="rgba(0,20,60,0.2)" stroke-width="0.8"/>
<rect x="97.80" y="528.22" width="24.7" height="13.6" rx="2" fill="#5a86ba" stroke="rgba(0,20,60,0.2)" stroke-width="0.8"/>
<rect x="124.25" y="528.22" width="24.7" height="13.6" rx="2" fill="#6088bc" stroke="rgba(0,20,60,0.2)" stroke-width="0.8"/>
<text transform="translate(57.55 282.38) scale(0.85 1)" font-size="7.0" text-anchor="middle" fill="#111" stroke="#111" stroke-width="0.12">303.35</text>
<text transform="translate(84.00 282.38) scale(0.85 1)" font-size="7.0" text-anchor="middle" fill="#111" stroke="#111" stroke-width="0.12">15.84</text>
<text transform="translate(110.45 282.38) scale(0.85 1)" font-size="7.0" text-anchor="middle" fill="#111" stroke="#111" stroke-width="0.12">92.22</text>
<text transform="translate(136.90 282.38) scale(0.85 1)" font-size="7.0" text-anchor="middle" fill="#111" stroke="#111" stroke-width="0.12">271.86</text>
<text transform="translate(57.55 297.44) scale(0.85 1)" font-size="7.0" text-anchor="middle" fill="#111" stroke="#111" stroke-width="0.12">48.15</text>
<text transform="translate(84.00 297.44) scale(0.85 1)" font-size="7.0" text-anchor="middle" fill="#111" stroke="#111" stroke-width="0.12">7.42</text>
<text transform="translate(110.45 297.44) scale(0.85 1)" font-size="7.0" text-anchor="middle" fill="#111" stroke="#111" stroke-width="0.12">73.89</text>
<text transform="translate(136.90 297.44) scale(0.85 1)" font-size="7.0" text-anchor="middle" fill="#111" stroke="#111" stroke-width="0.12">67.00</text>
<text transform="translate(57.55 312.50) scale(0.85 1)" font-size="7.0" text-anchor="middle" fill="#111" stroke="#111" stroke-width="0.12">2.93</text>
<text transform="translate(84.00 312.50) scale(0.85 1)" font-size="7.0" text-anchor="middle" fill="#111" stroke="#111" stroke-width="0.12">1.95</text>
<text transform="translate(110.45 312.50) scale(0.85 1)" font-size="7.0" text-anchor="middle" fill="#111" stroke="#111" stroke-width="0.12">4.57</text>
<text transform="translate(136.90 312.50) scale(0.85 1)" font-size="7.0" text-anchor="middle" fill="#111" stroke="#111" stroke-width="0.12">4.19</text>
<text transform="translate(57.55 327.56) scale(0.85 1)" font-size="7.0" text-anchor="middle" fill="#111" stroke="#111" stroke-width="0.12">13.74</text>
<text transform="translate(84.00 327.56) scale(0.85 1)" font-size="7.0" text-anchor="middle" fill="#111" stroke="#111" stroke-width="0.12">17.06</text>
<text transform="translate(110.45 327.56) scale(0.85 1)" font-size="7.0" text-anchor="middle" fill="#111" stroke="#111" stroke-width="0.12">0.01</text>
<text transform="translate(136.90 327.56) scale(0.85 1)" font-size="7.0" text-anchor="middle" fill="#111" stroke="#111" stroke-width="0.12">0.29</text>
<text transform="translate(57.55 342.62) scale(0.85 1)" font-size="7.0" text-anchor="middle" fill="#111" stroke="#111" stroke-width="0.12">1057.80</text>
<text transform="translate(84.00 342.62) scale(0.85 1)" font-size="7.0" text-anchor="middle" fill="#111" stroke="#111" stroke-width="0.12">33.25</text>
<text transform="translate(110.45 342.62) scale(0.85 1)" font-size="7.0" text-anchor="middle" fill="#111" stroke="#111" stroke-width="0.12">205.49</text>
<text transform="translate(136.90 342.62) scale(0.85 1)" font-size="7.0" text-anchor="middle" fill="#111" stroke="#111" stroke-width="0.12">1493.58</text>
<text transform="translate(57.55 357.68) scale(0.85 1)" font-size="7.0" text-anchor="middle" fill="#111" stroke="#111" stroke-width="0.12">42.10</text>
<text transform="translate(84.00 357.68) scale(0.85 1)" font-size="7.0" text-anchor="middle" fill="#111" stroke="#111" stroke-width="0.12">10.98</text>
<text transform="translate(110.45 357.68) scale(0.85 1)" font-size="7.0" text-anchor="middle" fill="#111" stroke="#111" stroke-width="0.12">39.08</text>
<text transform="translate(136.90 357.68) scale(0.85 1)" font-size="7.0" text-anchor="middle" fill="#111" stroke="#111" stroke-width="0.12">66.87</text>
<text transform="translate(57.55 372.74) scale(0.85 1)" font-size="7.0" text-anchor="middle" fill="#111" stroke="#111" stroke-width="0.12">77.03</text>
<text transform="translate(84.00 372.74) scale(0.85 1)" font-size="7.0" text-anchor="middle" fill="#111" stroke="#111" stroke-width="0.12">10.62</text>
<text transform="translate(110.45 372.74) scale(0.85 1)" font-size="7.0" text-anchor="middle" fill="#111" stroke="#111" stroke-width="0.12">59.93</text>
<text transform="translate(136.90 372.74) scale(0.85 1)" font-size="7.0" text-anchor="middle" fill="#111" stroke="#111" stroke-width="0.12">131.72</text>
<text transform="translate(57.55 387.80) scale(0.85 1)" font-size="7.0" text-anchor="middle" fill="#111" stroke="#111" stroke-width="0.12">0.27</text>
<text transform="translate(84.00 387.80) scale(0.85 1)" font-size="7.0" text-anchor="middle" fill="#111" stroke="#111" stroke-width="0.12">0.00</text>
<text transform="translate(110.45 387.80) scale(0.85 1)" font-size="7.0" text-anchor="middle" fill="#111" stroke="#111" stroke-width="0.12">0.00</text>
<text transform="translate(136.90 387.80) scale(0.85 1)" font-size="7.0" text-anchor="middle" fill="#111" stroke="#111" stroke-width="0.12">0.00</text>
<text transform="translate(57.55 402.86) scale(0.85 1)" font-size="7.0" text-anchor="middle" fill="#111" stroke="#111" stroke-width="0.12">149.11</text>
<text transform="translate(84.00 402.86) scale(0.85 1)" font-size="7.0" text-anchor="middle" fill="#111" stroke="#111" stroke-width="0.12">6.28</text>
<text transform="translate(110.45 402.86) scale(0.85 1)" font-size="7.0" text-anchor="middle" fill="#111" stroke="#111" stroke-width="0.12">46.00</text>
<text transform="translate(136.90 402.86) scale(0.85 1)" font-size="7.0" text-anchor="middle" fill="#111" stroke="#111" stroke-width="0.12">50.44</text>
<text transform="translate(57.55 417.92) scale(0.85 1)" font-size="7.0" text-anchor="middle" fill="#111" stroke="#111" stroke-width="0.12">38.44</text>
<text transform="translate(84.00 417.92) scale(0.85 1)" font-size="7.0" text-anchor="middle" fill="#111" stroke="#111" stroke-width="0.12">1.85</text>
<text transform="translate(110.45 417.92) scale(0.85 1)" font-size="7.0" text-anchor="middle" fill="#111" stroke="#111" stroke-width="0.12">9.92</text>
<text transform="translate(136.90 417.92) scale(0.85 1)" font-size="7.0" text-anchor="middle" fill="#111" stroke="#111" stroke-width="0.12">10.80</text>
<text transform="translate(57.55 432.98) scale(0.85 1)" font-size="7.0" text-anchor="middle" fill="#111" stroke="#111" stroke-width="0.12">103.63</text>
<text transform="translate(84.00 432.98) scale(0.85 1)" font-size="7.0" text-anchor="middle" fill="#111" stroke="#111" stroke-width="0.12">3.11</text>
<text transform="translate(110.45 432.98) scale(0.85 1)" font-size="7.0" text-anchor="middle" fill="#111" stroke="#111" stroke-width="0.12">102.15</text>
<text transform="translate(136.90 432.98) scale(0.85 1)" font-size="7.0" text-anchor="middle" fill="#111" stroke="#111" stroke-width="0.12">304.68</text>
<text transform="translate(57.55 448.04) scale(0.85 1)" font-size="7.0" text-anchor="middle" fill="#111" stroke="#111" stroke-width="0.12">9.62</text>
<text transform="translate(84.00 448.04) scale(0.85 1)" font-size="7.0" text-anchor="middle" fill="#111" stroke="#111" stroke-width="0.12">7.24</text>
<text transform="translate(110.45 448.04) scale(0.85 1)" font-size="7.0" text-anchor="middle" fill="#111" stroke="#111" stroke-width="0.12">14.18</text>
<text transform="translate(136.90 448.04) scale(0.85 1)" font-size="7.0" text-anchor="middle" fill="#111" stroke="#111" stroke-width="0.12">14.22</text>
<text transform="translate(57.55 463.10) scale(0.85 1)" font-size="7.0" text-anchor="middle" fill="#111" stroke="#111" stroke-width="0.12">29.65</text>
<text transform="translate(84.00 463.10) scale(0.85 1)" font-size="7.0" text-anchor="middle" fill="#111" stroke="#111" stroke-width="0.12">4.08</text>
<text transform="translate(110.45 463.10) scale(0.85 1)" font-size="7.0" text-anchor="middle" fill="#111" stroke="#111" stroke-width="0.12">17.39</text>
<text transform="translate(136.90 463.10) scale(0.85 1)" font-size="7.0" text-anchor="middle" fill="#111" stroke="#111" stroke-width="0.12">16.66</text>
<text transform="translate(57.55 478.16) scale(0.85 1)" font-size="7.0" text-anchor="middle" fill="#111" stroke="#111" stroke-width="0.12">49.90</text>
<text transform="translate(84.00 478.16) scale(0.85 1)" font-size="7.0" text-anchor="middle" fill="#111" stroke="#111" stroke-width="0.12">10.98</text>
<text transform="translate(110.45 478.16) scale(0.85 1)" font-size="7.0" text-anchor="middle" fill="#111" stroke="#111" stroke-width="0.12">68.00</text>
<text transform="translate(136.90 478.16) scale(0.85 1)" font-size="7.0" text-anchor="middle" fill="#111" stroke="#111" stroke-width="0.12">95.04</text>
<text transform="translate(57.55 493.22) scale(0.85 1)" font-size="7.0" text-anchor="middle" fill="#111" stroke="#111" stroke-width="0.12">55.45</text>
<text transform="translate(84.00 493.22) scale(0.85 1)" font-size="7.0" text-anchor="middle" fill="#111" stroke="#111" stroke-width="0.12">5.75</text>
<text transform="translate(110.45 493.22) scale(0.85 1)" font-size="7.0" text-anchor="middle" fill="#111" stroke="#111" stroke-width="0.12">37.09</text>
<text transform="translate(136.90 493.22) scale(0.85 1)" font-size="7.0" text-anchor="middle" fill="#111" stroke="#111" stroke-width="0.12">58.97</text>
<text transform="translate(57.55 508.28) scale(0.85 1)" font-size="7.0" text-anchor="middle" fill="#111" stroke="#111" stroke-width="0.12">79.65</text>
<text transform="translate(84.00 508.28) scale(0.85 1)" font-size="7.0" text-anchor="middle" fill="#111" stroke="#111" stroke-width="0.12">14.10</text>
<text transform="translate(110.45 508.28) scale(0.85 1)" font-size="7.0" text-anchor="middle" fill="#111" stroke="#111" stroke-width="0.12">28.13</text>
<text transform="translate(136.90 508.28) scale(0.85 1)" font-size="7.0" text-anchor="middle" fill="#111" stroke="#111" stroke-width="0.12">99.93</text>
<text transform="translate(57.55 523.34) scale(0.85 1)" font-size="7.0" text-anchor="middle" fill="#111" stroke="#111" stroke-width="0.12">20.17</text>
<text transform="translate(84.00 523.34) scale(0.85 1)" font-size="7.0" text-anchor="middle" fill="#111" stroke="#111" stroke-width="0.12">23.65</text>
<text transform="translate(110.45 523.34) scale(0.85 1)" font-size="7.0" text-anchor="middle" fill="#111" stroke="#111" stroke-width="0.12">3.87</text>
<text transform="translate(136.90 523.34) scale(0.85 1)" font-size="7.0" text-anchor="middle" fill="#111" stroke="#111" stroke-width="0.12">40.15</text>
<text transform="translate(57.55 538.40) scale(0.85 1)" font-size="7.0" text-anchor="middle" fill="#111" stroke="#111" stroke-width="0.12">13.51</text>
<text transform="translate(84.00 538.40) scale(0.85 1)" font-size="7.0" text-anchor="middle" fill="#111" stroke="#111" stroke-width="0.12">4.75</text>
<text transform="translate(110.45 538.40) scale(0.85 1)" font-size="7.0" text-anchor="middle" fill="#111" stroke="#111" stroke-width="0.12">18.99</text>
<text transform="translate(136.90 538.40) scale(0.85 1)" font-size="7.0" text-anchor="middle" fill="#111" stroke="#111" stroke-width="0.12">19.48</text>
<text transform="translate(151.7 281.20) scale(0.92 1)" font-size="6.5" font-style="italic" fill="#333">PyrCIPK15</text>
<text transform="translate(151.7 296.26) scale(0.92 1)" font-size="6.5" font-style="italic" fill="#333">PyrCIPK13</text>
<text transform="translate(151.7 311.32) scale(0.92 1)" font-size="6.5" font-style="italic" fill="#333">PyrCIPK7</text>
<text transform="translate(151.7 326.38) scale(0.92 1)" font-size="6.5" font-style="italic" fill="#333">PyrCIPK9</text>
<text transform="translate(151.7 341.44) scale(0.92 1)" font-size="6.5" font-style="italic" fill="#333">PyrCIPK18</text>
<text transform="translate(151.7 356.50) scale(0.92 1)" font-size="6.5" font-style="italic" fill="#333">PyrCIPK10</text>
<text transform="translate(151.7 371.56) scale(0.92 1)" font-size="6.5" font-style="italic" fill="#333">PyrCIPK4</text>
<text transform="translate(151.7 386.62) scale(0.92 1)" font-size="6.5" font-style="italic" fill="#333">PyrCIPK8</text>
<text transform="translate(151.7 401.68) scale(0.92 1)" font-size="6.5" font-style="italic" fill="#333">PyrCIPK12</text>
<text transform="translate(151.7 416.74) scale(0.92 1)" font-size="6.5" font-style="italic" fill="#333">PyrCIPK16</text>
<text transform="translate(151.7 431.80) scale(0.92 1)" font-size="6.5" font-style="italic" fill="#333">PyrCIPK1</text>
<text transform="translate(151.7 446.86) scale(0.92 1)" font-size="6.5" font-style="italic" fill="#333">PyrCIPK3</text>
<text transform="translate(151.7 461.92) scale(0.92 1)" font-size="6.5" font-style="italic" fill="#333">PyrCIPK2</text>
<text transform="translate(151.7 476.98) scale(0.92 1)" font-size="6.5" font-style="italic" fill="#333">PyrCIPK17</text>
<text transform="translate(151.7 492.04) scale(0.92 1)" font-size="6.5" font-style="italic" fill="#333">PyrCIPK5</text>
<text transform="translate(151.7 507.10) scale(0.92 1)" font-size="6.5" font-style="italic" fill="#333">PyrCIPK14</text>
<text transform="translate(151.7 522.16) scale(0.92 1)" font-size="6.5" font-style="italic" fill="#333">PyrCIPK6</text>
<text transform="translate(151.7 537.22) scale(0.92 1)" font-size="6.5" font-style="italic" fill="#333">PyrCIPK11</text>
<text x="61.00" y="270.00" font-size="8.0" transform="rotate(-45 61.00 270.00)" fill="#111" stroke="#111" stroke-width="0.1">Flower</text>
<text x="87.90" y="269.00" font-size="8.0" transform="rotate(-45 87.90 269.00)" fill="#111" stroke="#111" stroke-width="0.1">Leaf</text>
<text x="110.60" y="268.20" font-size="8.0" transform="rotate(-45 110.60 268.20)" fill="#111" stroke="#111" stroke-width="0.1">Root</text>
<text x="134.30" y="268.50" font-size="8.0" transform="rotate(-45 134.30 268.50)" fill="#111" stroke="#111" stroke-width="0.1">Shoot</text>
<defs><linearGradient id="gB" x1="0" y1="0" x2="0" y2="1">
<stop offset="0" stop-color="#e42828"/>
<stop offset="0.167" stop-color="#e85448"/>
<stop offset="0.27" stop-color="#ec8060"/>
<stop offset="0.35" stop-color="#f0ac80"/>
<stop offset="0.44" stop-color="#f0e0a8"/>
<stop offset="0.52" stop-color="#c4c8aa"/>
<stop offset="0.58" stop-color="#a0acb0"/>
<stop offset="0.667" stop-color="#7a94b4"/>
<stop offset="0.75" stop-color="#5078b0"/>
<stop offset="0.833" stop-color="#2c5caa"/>
<stop offset="0.92" stop-color="#1444a0"/>
<stop offset="1" stop-color="#0a3090"/>
</linearGradient></defs>
<rect x="184.0" y="273.8" width="9.6" height="81.0" fill="url(#gB)"/>
<line x1="193.60" y1="273.8" x2="193.60" y2="354.8" stroke="#222" stroke-width="0.6"/>
<line x1="193.60" y1="273.80" x2="195.10" y2="273.80" stroke="#222" stroke-width="0.6"/>
<text x="196.0" y="276.04" font-size="6.4" fill="#222">4.00</text>
<line x1="193.60" y1="287.30" x2="195.10" y2="287.30" stroke="#222" stroke-width="0.6"/>
<text x="196.0" y="289.54" font-size="6.4" fill="#222">3.00</text>
<line x1="193.60" y1="300.80" x2="195.10" y2="300.80" stroke="#222" stroke-width="0.6"/>
<text x="196.0" y="303.04" font-size="6.4" fill="#222">2.00</text>
<line x1="193.60" y1="314.30" x2="195.10" y2="314.30" stroke="#222" stroke-width="0.6"/>
<text x="196.0" y="316.54" font-size="6.4" fill="#222">1.00</text>
<line x1="193.60" y1="327.80" x2="195.10" y2="327.80" stroke="#222" stroke-width="0.6"/>
<text x="196.0" y="330.04" font-size="6.4" fill="#222">0.00</text>
<line x1="193.60" y1="341.30" x2="195.10" y2="341.30" stroke="#222" stroke-width="0.6"/>
<text x="196.0" y="343.54" font-size="6.4" fill="#222">-1.00</text>
<line x1="193.60" y1="354.80" x2="195.10" y2="354.80" stroke="#222" stroke-width="0.6"/>
<text x="196.0" y="357.04" font-size="6.4" fill="#222">-2.00</text>
<g stroke="#939393" stroke-width="0.9" fill="none">
<line x1="41.40" y1="279.00" x2="44.90" y2="279.00"/>
<line x1="41.40" y1="294.06" x2="44.90" y2="294.06"/>
<line x1="41.40" y1="279.00" x2="41.40" y2="294.06"/>
<line x1="36.70" y1="286.53" x2="41.40" y2="286.53"/>
<line x1="36.70" y1="309.12" x2="44.90" y2="309.12"/>
<line x1="36.70" y1="286.53" x2="36.70" y2="309.12"/>
<line x1="32.40" y1="297.82" x2="36.70" y2="297.82"/>
<line x1="32.40" y1="324.18" x2="44.90" y2="324.18"/>
<line x1="32.40" y1="297.82" x2="32.40" y2="324.18"/>
<line x1="32.40" y1="339.24" x2="44.90" y2="339.24"/>
<line x1="32.40" y1="354.30" x2="44.90" y2="354.30"/>
<line x1="32.40" y1="339.24" x2="32.40" y2="354.30"/>
<line x1="27.60" y1="311.00" x2="32.40" y2="311.00"/>
<line x1="27.60" y1="346.77" x2="32.40" y2="346.77"/>
<line x1="27.60" y1="311.00" x2="27.60" y2="346.77"/>
<line x1="27.60" y1="369.36" x2="44.90" y2="369.36"/>
<line x1="27.60" y1="384.42" x2="44.90" y2="384.42"/>
<line x1="27.60" y1="369.36" x2="27.60" y2="384.42"/>
<line x1="22.90" y1="328.89" x2="27.60" y2="328.89"/>
<line x1="22.90" y1="376.89" x2="27.60" y2="376.89"/>
<line x1="22.90" y1="328.89" x2="22.90" y2="376.89"/>
<line x1="22.90" y1="399.48" x2="44.90" y2="399.48"/>
<line x1="22.90" y1="414.54" x2="44.90" y2="414.54"/>
<line x1="22.90" y1="399.48" x2="22.90" y2="414.54"/>
<line x1="18.10" y1="352.89" x2="22.90" y2="352.89"/>
<line x1="18.10" y1="407.01" x2="22.90" y2="407.01"/>
<line x1="18.10" y1="352.89" x2="18.10" y2="407.01"/>
<line x1="22.90" y1="444.66" x2="44.90" y2="444.66"/>
<line x1="22.90" y1="459.72" x2="44.90" y2="459.72"/>
<line x1="22.90" y1="444.66" x2="22.90" y2="459.72"/>
<line x1="27.30" y1="474.78" x2="44.90" y2="474.78"/>
<line x1="27.30" y1="489.84" x2="44.90" y2="489.84"/>
<line x1="27.30" y1="474.78" x2="27.30" y2="489.84"/>
<line x1="32.30" y1="519.96" x2="44.90" y2="519.96"/>
<line x1="32.30" y1="535.02" x2="44.90" y2="535.02"/>
<line x1="32.30" y1="519.96" x2="32.30" y2="535.02"/>
<line x1="27.30" y1="504.90" x2="44.90" y2="504.90"/>
<line x1="27.30" y1="527.49" x2="32.30" y2="527.49"/>
<line x1="27.30" y1="504.90" x2="27.30" y2="527.49"/>
<line x1="22.80" y1="482.31" x2="27.30" y2="482.31"/>
<line x1="22.80" y1="516.20" x2="27.30" y2="516.20"/>
<line x1="22.80" y1="482.31" x2="22.80" y2="516.20"/>
<line x1="18.50" y1="452.19" x2="22.90" y2="452.19"/>
<line x1="18.50" y1="499.25" x2="22.80" y2="499.25"/>
<line x1="18.50" y1="452.19" x2="18.50" y2="499.25"/>
<line x1="13.50" y1="379.95" x2="18.10" y2="379.95"/>
<line x1="13.50" y1="475.72" x2="18.50" y2="475.72"/>
<line x1="13.50" y1="429.60" x2="44.90" y2="429.60"/>
<line x1="13.50" y1="379.95" x2="13.50" y2="475.72"/>
</g>
<text x="40.90" y="284.01" font-size="6.6" text-anchor="end" fill="#111" stroke="#111" stroke-width="0.08">55</text>
<text x="35.90" y="295.01" font-size="6.6" text-anchor="end" fill="#111" stroke="#111" stroke-width="0.08">83</text>
<text x="31.50" y="308.81" font-size="6.6" text-anchor="end" fill="#111" stroke="#111" stroke-width="0.08">99</text>
<text x="27.60" y="326.31" font-size="6.6" text-anchor="end" fill="#111" stroke="#111" stroke-width="0.08">59</text>
<text x="31.90" y="352.81" font-size="6.6" text-anchor="end" fill="#111" stroke="#111" stroke-width="0.08">39</text>
<text x="22.50" y="350.61" font-size="6.6" text-anchor="end" fill="#111" stroke="#111" stroke-width="0.08">67</text>
<text x="18.10" y="376.81" font-size="6.6" text-anchor="end" fill="#111" stroke="#111" stroke-width="0.08">84</text>
<text x="28.30" y="389.21" font-size="6.6" text-anchor="end" fill="#111" stroke="#111" stroke-width="0.08">100</text>
<text x="23.20" y="412.31" font-size="6.6" text-anchor="end" fill="#111" stroke="#111" stroke-width="0.08">100</text>
<text x="23.20" y="449.91" font-size="6.6" text-anchor="end" fill="#111" stroke="#111" stroke-width="0.08">85</text>
<text x="18.20" y="480.51" font-size="6.6" text-anchor="end" fill="#111" stroke="#111" stroke-width="0.08">99</text>
<text x="29.10" y="480.51" font-size="6.6" text-anchor="end" fill="#111" stroke="#111" stroke-width="0.08">100</text>
<text x="20.50" y="506.01" font-size="6.6" text-anchor="end" fill="#111" stroke="#111" stroke-width="0.08">97</text>
<text x="27.30" y="521.91" font-size="6.6" text-anchor="end" fill="#111" stroke="#111" stroke-width="0.08">100</text>
<text x="31.40" y="533.31" font-size="6.6" text-anchor="end" fill="#111" stroke="#111" stroke-width="0.08">52</text>
<rect x="236.00" y="272.70" width="24.5" height="13.6" rx="2" fill="#7494c0" stroke="rgba(0,20,60,0.2)" stroke-width="0.8"/>
<rect x="262.95" y="272.70" width="24.5" height="13.6" rx="2" fill="#5a82b8" stroke="rgba(0,20,60,0.2)" stroke-width="0.8"/>
<rect x="289.90" y="272.70" width="24.5" height="13.6" rx="2" fill="#2c60b0" stroke="rgba(0,20,60,0.2)" stroke-width="0.8"/>
<rect x="316.85" y="272.70" width="24.5" height="13.6" rx="2" fill="#2c60b0" stroke="rgba(0,20,60,0.2)" stroke-width="0.8"/>
<rect x="343.80" y="272.70" width="24.5" height="13.6" rx="2" fill="#2c60b0" stroke="rgba(0,20,60,0.2)" stroke-width="0.8"/>
<rect x="236.00" y="287.73" width="24.5" height="13.6" rx="2" fill="#98acbc" stroke="rgba(0,20,60,0.2)" stroke-width="0.8"/>
<rect x="262.95" y="287.73" width="24.5" height="13.6" rx="2" fill="#2c60b0" stroke="rgba(0,20,60,0.2)" stroke-width="0.8"/>
<rect x="289.90" y="287.73" width="24.5" height="13.6" rx="2" fill="#2c60b0" stroke="rgba(0,20,60,0.2)" stroke-width="0.8"/>
<rect x="316.85" y="287.73" width="24.5" height="13.6" rx="2" fill="#2c60b0" stroke="rgba(0,20,60,0.2)" stroke-width="0.8"/>
<rect x="343.80" y="287.73" width="24.5" height="13.6" rx="2" fill="#2c60b0" stroke="rgba(0,20,60,0.2)" stroke-width="0.8"/>
<rect x="236.00" y="302.76" width="24.5" height="13.6" rx="2" fill="#1c52a8" stroke="rgba(0,20,60,0.2)" stroke-width="0.8"/>
<rect x="262.95" y="302.76" width="24.5" height="13.6" rx="2" fill="#2c60b0" stroke="rgba(0,20,60,0.2)" stroke-width="0.8"/>
<rect x="289.90" y="302.76" width="24.5" height="13.6" rx="2" fill="#2c60b0" stroke="rgba(0,20,60,0.2)" stroke-width="0.8"/>
<rect x="316.85" y="302.76" width="24.5" height="13.6" rx="2" fill="#2c60b0" stroke="rgba(0,20,60,0.2)" stroke-width="0.8"/>
<rect x="343.80" y="302.76" width="24.5" height="13.6" rx="2" fill="#2c60b0" stroke="rgba(0,20,60,0.2)" stroke-width="0.8"/>
<rect x="236.00" y="317.79" width="24.5" height="13.6" rx="2" fill="#1c52a8" stroke="rgba(0,20,60,0.2)" stroke-width="0.8"/>
<rect x="262.95" y="317.79" width="24.5" height="13.6" rx="2" fill="#1c52a8" stroke="rgba(0,20,60,0.2)" stroke-width="0.8"/>
<rect x="289.90" y="317.79" width="24.5" height="13.6" rx="2" fill="#1c52a8" stroke="rgba(0,20,60,0.2)" stroke-width="0.8"/>
<rect x="316.85" y="317.79" width="24.5" height="13.6" rx="2" fill="#1c52a8" stroke="rgba(0,20,60,0.2)" stroke-width="0.8"/>
<rect x="343.80" y="317.79" width="24.5" height="13.6" rx="2" fill="#1c52a8" stroke="rgba(0,20,60,0.2)" stroke-width="0.8"/>
<rect x="236.00" y="332.82" width="24.5" height="13.6" rx="2" fill="#e83c2c" stroke="rgba(0,20,60,0.2)" stroke-width="0.8"/>
<rect x="262.95" y="332.82" width="24.5" height="13.6" rx="2" fill="#e03028" stroke="rgba(0,20,60,0.2)" stroke-width="0.8"/>
<rect x="289.90" y="332.82" width="24.5" height="13.6" rx="2" fill="#e83c2c" stroke="rgba(0,20,60,0.2)" stroke-width="0.8"/>
<rect x="316.85" y="332.82" width="24.5" height="13.6" rx="2" fill="#e83c2c" stroke="rgba(0,20,60,0.2)" stroke-width="0.8"/>
<rect x="343.80" y="332.82" width="24.5" height="13.6" rx="2" fill="#e43428" stroke="rgba(0,20,60,0.2)" stroke-width="0.8"/>
<rect x="236.00" y="347.85" width="24.5" height="13.6" rx="2" fill="#2c60b0" stroke="rgba(0,20,60,0.2)" stroke-width="0.8"/>
<rect x="262.95" y="347.85" width="24.5" height="13.6" rx="2" fill="#2c60b0" stroke="rgba(0,20,60,0.2)" stroke-width="0.8"/>
<rect x="289.90" y="347.85" width="24.5" height="13.6" rx="2" fill="#2c60b0" stroke="rgba(0,20,60,0.2)" stroke-width="0.8"/>
<rect x="316.85" y="347.85" width="24.5" height="13.6" rx="2" fill="#2c60b0" stroke="rgba(0,20,60,0.2)" stroke-width="0.8"/>
<rect x="343.80" y="347.85" width="24.5" height="13.6" rx="2" fill="#3a6ab4" stroke="rgba(0,20,60,0.2)" stroke-width="0.8"/>
<rect x="236.00" y="362.88" width="24.5" height="13.6" rx="2" fill="#a0b0b8" stroke="rgba(0,20,60,0.2)" stroke-width="0.8"/>
<rect x="262.95" y="362.88" width="24.5" height="13.6" rx="2" fill="#3a6ab4" stroke="rgba(0,20,60,0.2)" stroke-width="0.8"/>
<rect x="289.90" y="362.88" width="24.5" height="13.6" rx="2" fill="#2c60b0" stroke="rgba(0,20,60,0.2)" stroke-width="0.8"/>
<rect x="316.85" y="362.88" width="24.5" height="13.6" rx="2" fill="#2c60b0" stroke="rgba(0,20,60,0.2)" stroke-width="0.8"/>
<rect x="343.80" y="362.88" width="24.5" height="13.6" rx="2" fill="#3a6ab4" stroke="rgba(0,20,60,0.2)" stroke-width="0.8"/>
<rect x="236.00" y="377.91" width="24.5" height="13.6" rx="2" fill="#1c52a8" stroke="rgba(0,20,60,0.2)" stroke-width="0.8"/>
<rect x="262.95" y="377.91" width="24.5" height="13.6" rx="2" fill="#1c52a8" stroke="rgba(0,20,60,0.2)" stroke-width="0.8"/>
<rect x="289.90" y="377.91" width="24.5" height="13.6" rx="2" fill="#1c52a8" stroke="rgba(0,20,60,0.2)" stroke-width="0.8"/>
<rect x="316.85" y="377.91" width="24.5" height="13.6" rx="2" fill="#1c52a8" stroke="rgba(0,20,60,0.2)" stroke-width="0.8"/>
<rect x="343.80" y="377.91" width="24.5" height="13.6" rx="2" fill="#1c52a8" stroke="rgba(0,20,60,0.2)" stroke-width="0.8"/>
<rect x="236.00" y="392.94" width="24.5" height="13.6" rx="2" fill="#6a90bc" stroke="rgba(0,20,60,0.2)" stroke-width="0.8"/>
<rect x="262.95" y="392.94" width="24.5" height="13.6" rx="2" fill="#2c60b0" stroke="rgba(0,20,60,0.2)" stroke-width="0.8"/>
<rect x="289.90" y="392.94" width="24.5" height="13.6" rx="2" fill="#2c60b0" stroke="rgba(0,20,60,0.2)" stroke-width="0.8"/>
<rect x="316.85" y="392.94" width="24.5" height="13.6" rx="2" fill="#2c60b0" stroke="rgba(0,20,60,0.2)" stroke-width="0.8"/>
<rect x="343.80" y="392.94" width="24.5" height="13.6" rx="2" fill="#5a86ba" stroke="rgba(0,20,60,0.2)" stroke-width="0.8"/>
<rect x="236.00" y="407.97" width="24.5" height="13.6" rx="2" fill="#2c60b0" stroke="rgba(0,20,60,0.2)" stroke-width="0.8"/>
<rect x="262.95" y="407.97" width="24.5" height="13.6" rx="2" fill="#3a6ab4" stroke="rgba(0,20,60,0.2)" stroke-width="0.8"/>
<rect x="289.90" y="407.97" width="24.5" height="13.6" rx="2" fill="#90a8c0" stroke="rgba(0,20,60,0.2)" stroke-width="0.8"/>
<rect x="316.85" y="407.97" width="24.5" height="13.6" rx="2" fill="#7898c0" stroke="rgba(0,20,60,0.2)" stroke-width="0.8"/>
<rect x="343.80" y="407.97" width="24.5" height="13.6" rx="2" fill="#2c60b0" stroke="rgba(0,20,60,0.2)" stroke-width="0.8"/>
<rect x="236.00" y="423.00" width="24.5" height="13.6" rx="2" fill="#2c60b0" stroke="rgba(0,20,60,0.2)" stroke-width="0.8"/>
<rect x="262.95" y="423.00" width="24.5" height="13.6" rx="2" fill="#2c60b0" stroke="rgba(0,20,60,0.2)" stroke-width="0.8"/>
<rect x="289.90" y="423.00" width="24.5" height="13.6" rx="2" fill="#2c60b0" stroke="rgba(0,20,60,0.2)" stroke-width="0.8"/>
<rect x="316.85" y="423.00" width="24.5" height="13.6" rx="2" fill="#2c60b0" stroke="rgba(0,20,60,0.2)" stroke-width="0.8"/>
<rect x="343.80" y="423.00" width="24.5" height="13.6" rx="2" fill="#2c60b0" stroke="rgba(0,20,60,0.2)" stroke-width="0.8"/>
<rect x="236.00" y="438.03" width="24.5" height="13.6" rx="2" fill="#1c52a8" stroke="rgba(0,20,60,0.2)" stroke-width="0.8"/>
<rect x="262.95" y="438.03" width="24.5" height="13.6" rx="2" fill="#3a6ab4" stroke="rgba(0,20,60,0.2)" stroke-width="0.8"/>
<rect x="289.90" y="438.03" width="24.5" height="13.6" rx="2" fill="#1c52a8" stroke="rgba(0,20,60,0.2)" stroke-width="0.8"/>
<rect x="316.85" y="438.03" width="24.5" height="13.6" rx="2" fill="#2c60b0" stroke="rgba(0,20,60,0.2)" stroke-width="0.8"/>
<rect x="343.80" y="438.03" width="24.5" height="13.6" rx="2" fill="#2c60b0" stroke="rgba(0,20,60,0.2)" stroke-width="0.8"/>
<rect x="236.00" y="453.06" width="24.5" height="13.6" rx="2" fill="#2c60b0" stroke="rgba(0,20,60,0.2)" stroke-width="0.8"/>
<rect x="262.95" y="453.06" width="24.5" height="13.6" rx="2" fill="#4a7ab6" stroke="rgba(0,20,60,0.2)" stroke-width="0.8"/>
<rect x="289.90" y="453.06" width="24.5" height="13.6" rx="2" fill="#a0b0b8" stroke="rgba(0,20,60,0.2)" stroke-width="0.8"/>
<rect x="316.85" y="453.06" width="24.5" height="13.6" rx="2" fill="#a0b0b8" stroke="rgba(0,20,60,0.2)" stroke-width="0.8"/>
<rect x="343.80" y="453.06" width="24.5" height="13.6" rx="2" fill="#a8b4b8" stroke="rgba(0,20,60,0.2)" stroke-width="0.8"/>
<rect x="236.00" y="468.09" width="24.5" height="13.6" rx="2" fill="#2c60b0" stroke="rgba(0,20,60,0.2)" stroke-width="0.8"/>
<rect x="262.95" y="468.09" width="24.5" height="13.6" rx="2" fill="#2c60b0" stroke="rgba(0,20,60,0.2)" stroke-width="0.8"/>
<rect x="289.90" y="468.09" width="24.5" height="13.6" rx="2" fill="#2c60b0" stroke="rgba(0,20,60,0.2)" stroke-width="0.8"/>
<rect x="316.85" y="468.09" width="24.5" height="13.6" rx="2" fill="#2c60b0" stroke="rgba(0,20,60,0.2)" stroke-width="0.8"/>
<rect x="343.80" y="468.09" width="24.5" height="13.6" rx="2" fill="#2c60b0" stroke="rgba(0,20,60,0.2)" stroke-width="0.8"/>
<rect x="236.00" y="483.12" width="24.5" height="13.6" rx="2" fill="#1c52a8" stroke="rgba(0,20,60,0.2)" stroke-width="0.8"/>
<rect x="262.95" y="483.12" width="24.5" height="13.6" rx="2" fill="#3a6ab4" stroke="rgba(0,20,60,0.2)" stroke-width="0.8"/>
<rect x="289.90" y="483.12" width="24.5" height="13.6" rx="2" fill="#2c60b0" stroke="rgba(0,20,60,0.2)" stroke-width="0.8"/>
<rect x="316.85" y="483.12" width="24.5" height="13.6" rx="2" fill="#2c60b0" stroke="rgba(0,20,60,0.2)" stroke-width="0.8"/>
<rect x="343.80" y="483.12" width="24.5" height="13.6" rx="2" fill="#2c60b0" stroke="rgba(0,20,60,0.2)" stroke-width="0.8"/>
<rect x="236.00" y="498.15" width="24.5" height="13.6" rx="2" fill="#4e7eb8" stroke="rgba(0,20,60,0.2)" stroke-width="0.8"/>
<rect x="262.95" y="498.15" width="24.5" height="13.6" rx="2" fill="#4074b4" stroke="rgba(0,20,60,0.2)" stroke-width="0.8"/>
<rect x="289.90" y="498.15" width="24.5" height="13.6" rx="2" fill="#2c60b0" stroke="rgba(0,20,60,0.2)" stroke-width="0.8"/>
<rect x="316.85" y="498.15" width="24.5" height="13.6" rx="2" fill="#2c60b0" stroke="rgba(0,20,60,0.2)" stroke-width="0.8"/>
<rect x="343.80" y="498.15" width="24.5" height="13.6" rx="2" fill="#2c60b0" stroke="rgba(0,20,60,0.2)" stroke-width="0.8"/>
<rect x="236.00" y="513.18" width="24.5" height="13.6" rx="2" fill="#4e7eb8" stroke="rgba(0,20,60,0.2)" stroke-width="0.8"/>
<rect x="262.95" y="513.18" width="24.5" height="13.6" rx="2" fill="#3a6ab4" stroke="rgba(0,20,60,0.2)" stroke-width="0.8"/>
<rect x="289.90" y="513.18" width="24.5" height="13.6" rx="2" fill="#2c60b0" stroke="rgba(0,20,60,0.2)" stroke-width="0.8"/>
<rect x="316.85" y="513.18" width="24.5" height="13.6" rx="2" fill="#2c60b0" stroke="rgba(0,20,60,0.2)" stroke-width="0.8"/>
<rect x="343.80" y="513.18" width="24.5" height="13.6" rx="2" fill="#2c60b0" stroke="rgba(0,20,60,0.2)" stroke-width="0.8"/>
<rect x="236.00" y="528.21" width="24.5" height="13.6" rx="2" fill="#1c52a8" stroke="rgba(0,20,60,0.2)" stroke-width="0.8"/>
<rect x="262.95" y="528.21" width="24.5" height="13.6" rx="2" fill="#3a6ab4" stroke="rgba(0,20,60,0.2)" stroke-width="0.8"/>
<rect x="289.90" y="528.21" width="24.5" height="13.6" rx="2" fill="#4e7eb8" stroke="rgba(0,20,60,0.2)" stroke-width="0.8"/>
<rect x="316.85" y="528.21" width="24.5" height="13.6" rx="2" fill="#4a7ab6" stroke="rgba(0,20,60,0.2)" stroke-width="0.8"/>
<rect x="343.80" y="528.21" width="24.5" height="13.6" rx="2" fill="#4074b4" stroke="rgba(0,20,60,0.2)" stroke-width="0.8"/>
<text transform="translate(247.95 282.68) scale(0.85 1)" font-size="7.0" text-anchor="middle" fill="#111" stroke="#111" stroke-width="0.12">343.36</text>
<text transform="translate(274.90 282.68) scale(0.85 1)" font-size="7.0" text-anchor="middle" fill="#111" stroke="#111" stroke-width="0.12">337.76</text>
<text transform="translate(301.85 282.68) scale(0.85 1)" font-size="7.0" text-anchor="middle" fill="#111" stroke="#111" stroke-width="0.12">71.76</text>
<text transform="translate(328.80 282.68) scale(0.85 1)" font-size="7.0" text-anchor="middle" fill="#111" stroke="#111" stroke-width="0.12">76.90</text>
<text transform="translate(355.75 282.68) scale(0.85 1)" font-size="7.0" text-anchor="middle" fill="#111" stroke="#111" stroke-width="0.12">60.61</text>
<text transform="translate(247.95 297.71) scale(0.85 1)" font-size="7.0" text-anchor="middle" fill="#111" stroke="#111" stroke-width="0.12">416.58</text>
<text transform="translate(274.90 297.71) scale(0.85 1)" font-size="7.0" text-anchor="middle" fill="#111" stroke="#111" stroke-width="0.12">94.92</text>
<text transform="translate(301.85 297.71) scale(0.85 1)" font-size="7.0" text-anchor="middle" fill="#111" stroke="#111" stroke-width="0.12">31.27</text>
<text transform="translate(328.80 297.71) scale(0.85 1)" font-size="7.0" text-anchor="middle" fill="#111" stroke="#111" stroke-width="0.12">30.48</text>
<text transform="translate(355.75 297.71) scale(0.85 1)" font-size="7.0" text-anchor="middle" fill="#111" stroke="#111" stroke-width="0.12">23.42</text>
<text transform="translate(247.95 312.74) scale(0.85 1)" font-size="7.0" text-anchor="middle" fill="#111" stroke="#111" stroke-width="0.12">6.34</text>
<text transform="translate(274.90 312.74) scale(0.85 1)" font-size="7.0" text-anchor="middle" fill="#111" stroke="#111" stroke-width="0.12">1.53</text>
<text transform="translate(301.85 312.74) scale(0.85 1)" font-size="7.0" text-anchor="middle" fill="#111" stroke="#111" stroke-width="0.12">35.46</text>
<text transform="translate(328.80 312.74) scale(0.85 1)" font-size="7.0" text-anchor="middle" fill="#111" stroke="#111" stroke-width="0.12">32.75</text>
<text transform="translate(355.75 312.74) scale(0.85 1)" font-size="7.0" text-anchor="middle" fill="#111" stroke="#111" stroke-width="0.12">27.65</text>
<text transform="translate(247.95 327.77) scale(0.85 1)" font-size="7.0" text-anchor="middle" fill="#111" stroke="#111" stroke-width="0.12">0.66</text>
<text transform="translate(274.90 327.77) scale(0.85 1)" font-size="7.0" text-anchor="middle" fill="#111" stroke="#111" stroke-width="0.12">0.01</text>
<text transform="translate(301.85 327.77) scale(0.85 1)" font-size="7.0" text-anchor="middle" fill="#111" stroke="#111" stroke-width="0.12">0.02</text>
<text transform="translate(328.80 327.77) scale(0.85 1)" font-size="7.0" text-anchor="middle" fill="#111" stroke="#111" stroke-width="0.12">0.00</text>
<text transform="translate(355.75 327.77) scale(0.85 1)" font-size="7.0" text-anchor="middle" fill="#111" stroke="#111" stroke-width="0.12">0.01</text>
<text transform="translate(247.95 342.80) scale(0.85 1)" font-size="7.0" text-anchor="middle" fill="#111" stroke="#111" stroke-width="0.12">1653.05</text>
<text transform="translate(274.90 342.80) scale(0.85 1)" font-size="7.0" text-anchor="middle" fill="#111" stroke="#111" stroke-width="0.12">3693.94</text>
<text transform="translate(301.85 342.80) scale(0.85 1)" font-size="7.0" text-anchor="middle" fill="#111" stroke="#111" stroke-width="0.12">2132.65</text>
<text transform="translate(328.80 342.80) scale(0.85 1)" font-size="7.0" text-anchor="middle" fill="#111" stroke="#111" stroke-width="0.12">2348.11</text>
<text transform="translate(355.75 342.80) scale(0.85 1)" font-size="7.0" text-anchor="middle" fill="#111" stroke="#111" stroke-width="0.12">3495.77</text>
<text transform="translate(247.95 357.83) scale(0.85 1)" font-size="7.0" text-anchor="middle" fill="#111" stroke="#111" stroke-width="0.12">114.23</text>
<text transform="translate(274.90 357.83) scale(0.85 1)" font-size="7.0" text-anchor="middle" fill="#111" stroke="#111" stroke-width="0.12">91.54</text>
<text transform="translate(301.85 357.83) scale(0.85 1)" font-size="7.0" text-anchor="middle" fill="#111" stroke="#111" stroke-width="0.12">65.12</text>
<text transform="translate(328.80 357.83) scale(0.85 1)" font-size="7.0" text-anchor="middle" fill="#111" stroke="#111" stroke-width="0.12">82.01</text>
<text transform="translate(355.75 357.83) scale(0.85 1)" font-size="7.0" text-anchor="middle" fill="#111" stroke="#111" stroke-width="0.12">109.22</text>
<text transform="translate(247.95 372.86) scale(0.85 1)" font-size="7.0" text-anchor="middle" fill="#111" stroke="#111" stroke-width="0.12">459.52</text>
<text transform="translate(274.90 372.86) scale(0.85 1)" font-size="7.0" text-anchor="middle" fill="#111" stroke="#111" stroke-width="0.12">131.46</text>
<text transform="translate(301.85 372.86) scale(0.85 1)" font-size="7.0" text-anchor="middle" fill="#111" stroke="#111" stroke-width="0.12">92.86</text>
<text transform="translate(328.80 372.86) scale(0.85 1)" font-size="7.0" text-anchor="middle" fill="#111" stroke="#111" stroke-width="0.12">97.53</text>
<text transform="translate(355.75 372.86) scale(0.85 1)" font-size="7.0" text-anchor="middle" fill="#111" stroke="#111" stroke-width="0.12">173.84</text>
<text transform="translate(247.95 387.89) scale(0.85 1)" font-size="7.0" text-anchor="middle" fill="#111" stroke="#111" stroke-width="0.12">0.00</text>
<text transform="translate(274.90 387.89) scale(0.85 1)" font-size="7.0" text-anchor="middle" fill="#111" stroke="#111" stroke-width="0.12">0.00</text>
<text transform="translate(301.85 387.89) scale(0.85 1)" font-size="7.0" text-anchor="middle" fill="#111" stroke="#111" stroke-width="0.12">0.00</text>
<text transform="translate(328.80 387.89) scale(0.85 1)" font-size="7.0" text-anchor="middle" fill="#111" stroke="#111" stroke-width="0.12">0.00</text>
<text transform="translate(355.75 387.89) scale(0.85 1)" font-size="7.0" text-anchor="middle" fill="#111" stroke="#111" stroke-width="0.12">0.00</text>
<text transform="translate(247.95 402.92) scale(0.85 1)" font-size="7.0" text-anchor="middle" fill="#111" stroke="#111" stroke-width="0.12">224.46</text>
<text transform="translate(274.90 402.92) scale(0.85 1)" font-size="7.0" text-anchor="middle" fill="#111" stroke="#111" stroke-width="0.12">65.25</text>
<text transform="translate(301.85 402.92) scale(0.85 1)" font-size="7.0" text-anchor="middle" fill="#111" stroke="#111" stroke-width="0.12">56.42</text>
<text transform="translate(328.80 402.92) scale(0.85 1)" font-size="7.0" text-anchor="middle" fill="#111" stroke="#111" stroke-width="0.12">51.07</text>
<text transform="translate(355.75 402.92) scale(0.85 1)" font-size="7.0" text-anchor="middle" fill="#111" stroke="#111" stroke-width="0.12">202.12</text>
<text transform="translate(247.95 417.95) scale(0.85 1)" font-size="7.0" text-anchor="middle" fill="#111" stroke="#111" stroke-width="0.12">98.43</text>
<text transform="translate(274.90 417.95) scale(0.85 1)" font-size="7.0" text-anchor="middle" fill="#111" stroke="#111" stroke-width="0.12">104.68</text>
<text transform="translate(301.85 417.95) scale(0.85 1)" font-size="7.0" text-anchor="middle" fill="#111" stroke="#111" stroke-width="0.12">353.16</text>
<text transform="translate(328.80 417.95) scale(0.85 1)" font-size="7.0" text-anchor="middle" fill="#111" stroke="#111" stroke-width="0.12">326.95</text>
<text transform="translate(355.75 417.95) scale(0.85 1)" font-size="7.0" text-anchor="middle" fill="#111" stroke="#111" stroke-width="0.12">72.93</text>
<text transform="translate(247.95 432.98) scale(0.85 1)" font-size="7.0" text-anchor="middle" fill="#111" stroke="#111" stroke-width="0.12">93.59</text>
<text transform="translate(274.90 432.98) scale(0.85 1)" font-size="7.0" text-anchor="middle" fill="#111" stroke="#111" stroke-width="0.12">69.83</text>
<text transform="translate(301.85 432.98) scale(0.85 1)" font-size="7.0" text-anchor="middle" fill="#111" stroke="#111" stroke-width="0.12">53.90</text>
<text transform="translate(328.80 432.98) scale(0.85 1)" font-size="7.0" text-anchor="middle" fill="#111" stroke="#111" stroke-width="0.12">21.43</text>
<text transform="translate(355.75 432.98) scale(0.85 1)" font-size="7.0" text-anchor="middle" fill="#111" stroke="#111" stroke-width="0.12">31.43</text>
<text transform="translate(247.95 448.01) scale(0.85 1)" font-size="7.0" text-anchor="middle" fill="#111" stroke="#111" stroke-width="0.12">10.00</text>
<text transform="translate(274.90 448.01) scale(0.85 1)" font-size="7.0" text-anchor="middle" fill="#111" stroke="#111" stroke-width="0.12">39.06</text>
<text transform="translate(301.85 448.01) scale(0.85 1)" font-size="7.0" text-anchor="middle" fill="#111" stroke="#111" stroke-width="0.12">1.77</text>
<text transform="translate(328.80 448.01) scale(0.85 1)" font-size="7.0" text-anchor="middle" fill="#111" stroke="#111" stroke-width="0.12">2.18</text>
<text transform="translate(355.75 448.01) scale(0.85 1)" font-size="7.0" text-anchor="middle" fill="#111" stroke="#111" stroke-width="0.12">5.70</text>
<text transform="translate(247.95 463.04) scale(0.85 1)" font-size="7.0" text-anchor="middle" fill="#111" stroke="#111" stroke-width="0.12">30.25</text>
<text transform="translate(274.90 463.04) scale(0.85 1)" font-size="7.0" text-anchor="middle" fill="#111" stroke="#111" stroke-width="0.12">181.55</text>
<text transform="translate(301.85 463.04) scale(0.85 1)" font-size="7.0" text-anchor="middle" fill="#111" stroke="#111" stroke-width="0.12">503.06</text>
<text transform="translate(328.80 463.04) scale(0.85 1)" font-size="7.0" text-anchor="middle" fill="#111" stroke="#111" stroke-width="0.12">523.25</text>
<text transform="translate(355.75 463.04) scale(0.85 1)" font-size="7.0" text-anchor="middle" fill="#111" stroke="#111" stroke-width="0.12">746.89</text>
<text transform="translate(247.95 478.07) scale(0.85 1)" font-size="7.0" text-anchor="middle" fill="#111" stroke="#111" stroke-width="0.12">115.91</text>
<text transform="translate(274.90 478.07) scale(0.85 1)" font-size="7.0" text-anchor="middle" fill="#111" stroke="#111" stroke-width="0.12">84.57</text>
<text transform="translate(301.85 478.07) scale(0.85 1)" font-size="7.0" text-anchor="middle" fill="#111" stroke="#111" stroke-width="0.12">95.25</text>
<text transform="translate(328.80 478.07) scale(0.85 1)" font-size="7.0" text-anchor="middle" fill="#111" stroke="#111" stroke-width="0.12">90.83</text>
<text transform="translate(355.75 478.07) scale(0.85 1)" font-size="7.0" text-anchor="middle" fill="#111" stroke="#111" stroke-width="0.12">62.28</text>
<text transform="translate(247.95 493.10) scale(0.85 1)" font-size="7.0" text-anchor="middle" fill="#111" stroke="#111" stroke-width="0.12">19.02</text>
<text transform="translate(274.90 493.10) scale(0.85 1)" font-size="7.0" text-anchor="middle" fill="#111" stroke="#111" stroke-width="0.12">68.19</text>
<text transform="translate(301.85 493.10) scale(0.85 1)" font-size="7.0" text-anchor="middle" fill="#111" stroke="#111" stroke-width="0.12">32.60</text>
<text transform="translate(328.80 493.10) scale(0.85 1)" font-size="7.0" text-anchor="middle" fill="#111" stroke="#111" stroke-width="0.12">35.46</text>
<text transform="translate(355.75 493.10) scale(0.85 1)" font-size="7.0" text-anchor="middle" fill="#111" stroke="#111" stroke-width="0.12">22.94</text>
<text transform="translate(247.95 508.13) scale(0.85 1)" font-size="7.0" text-anchor="middle" fill="#111" stroke="#111" stroke-width="0.12">184.60</text>
<text transform="translate(274.90 508.13) scale(0.85 1)" font-size="7.0" text-anchor="middle" fill="#111" stroke="#111" stroke-width="0.12">147.53</text>
<text transform="translate(301.85 508.13) scale(0.85 1)" font-size="7.0" text-anchor="middle" fill="#111" stroke="#111" stroke-width="0.12">71.07</text>
<text transform="translate(328.80 508.13) scale(0.85 1)" font-size="7.0" text-anchor="middle" fill="#111" stroke="#111" stroke-width="0.12">69.97</text>
<text transform="translate(355.75 508.13) scale(0.85 1)" font-size="7.0" text-anchor="middle" fill="#111" stroke="#111" stroke-width="0.12">41.51</text>
<text transform="translate(247.95 523.16) scale(0.85 1)" font-size="7.0" text-anchor="middle" fill="#111" stroke="#111" stroke-width="0.12">150.07</text>
<text transform="translate(274.90 523.16) scale(0.85 1)" font-size="7.0" text-anchor="middle" fill="#111" stroke="#111" stroke-width="0.12">67.06</text>
<text transform="translate(301.85 523.16) scale(0.85 1)" font-size="7.0" text-anchor="middle" fill="#111" stroke="#111" stroke-width="0.12">19.42</text>
<text transform="translate(328.80 523.16) scale(0.85 1)" font-size="7.0" text-anchor="middle" fill="#111" stroke="#111" stroke-width="0.12">16.63</text>
<text transform="translate(355.75 523.16) scale(0.85 1)" font-size="7.0" text-anchor="middle" fill="#111" stroke="#111" stroke-width="0.12">11.94</text>
<text transform="translate(247.95 538.19) scale(0.85 1)" font-size="7.0" text-anchor="middle" fill="#111" stroke="#111" stroke-width="0.12">7.45</text>
<text transform="translate(274.90 538.19) scale(0.85 1)" font-size="7.0" text-anchor="middle" fill="#111" stroke="#111" stroke-width="0.12">45.82</text>
<text transform="translate(301.85 538.19) scale(0.85 1)" font-size="7.0" text-anchor="middle" fill="#111" stroke="#111" stroke-width="0.12">157.86</text>
<text transform="translate(328.80 538.19) scale(0.85 1)" font-size="7.0" text-anchor="middle" fill="#111" stroke="#111" stroke-width="0.12">175.43</text>
<text transform="translate(355.75 538.19) scale(0.85 1)" font-size="7.0" text-anchor="middle" fill="#111" stroke="#111" stroke-width="0.12">164.31</text>
<text transform="translate(371.0 281.70) scale(0.92 1)" font-size="6.5" font-style="italic" fill="#333">PyrCIPK15</text>
<text transform="translate(371.0 296.73) scale(0.92 1)" font-size="6.5" font-style="italic" fill="#333">PyrCIPK13</text>
<text transform="translate(371.0 311.76) scale(0.92 1)" font-size="6.5" font-style="italic" fill="#333">PyrCIPK7</text>
<text transform="translate(371.0 326.79) scale(0.92 1)" font-size="6.5" font-style="italic" fill="#333">PyrCIPK9</text>
<text transform="translate(371.0 341.82) scale(0.92 1)" font-size="6.5" font-style="italic" fill="#333">PyrCIPK18</text>
<text transform="translate(371.0 356.85) scale(0.92 1)" font-size="6.5" font-style="italic" fill="#333">PyrCIPK10</text>
<text transform="translate(371.0 371.88) scale(0.92 1)" font-size="6.5" font-style="italic" fill="#333">PyrCIPK4</text>
<text transform="translate(371.0 386.91) scale(0.92 1)" font-size="6.5" font-style="italic" fill="#333">PyrCIPK8</text>
<text transform="translate(371.0 401.94) scale(0.92 1)" font-size="6.5" font-style="italic" fill="#333">PyrCIPK12</text>
<text transform="translate(371.0 416.97) scale(0.92 1)" font-size="6.5" font-style="italic" fill="#333">PyrCIPK16</text>
<text transform="translate(371.0 432.00) scale(0.92 1)" font-size="6.5" font-style="italic" fill="#333">PyrCIPK1</text>
<text transform="translate(371.0 447.03) scale(0.92 1)" font-size="6.5" font-style="italic" fill="#333">PyrCIPK3</text>
<text transform="translate(371.0 462.06) scale(0.92 1)" font-size="6.5" font-style="italic" fill="#333">PyrCIPK2</text>
<text transform="translate(371.0 477.09) scale(0.92 1)" font-size="6.5" font-style="italic" fill="#333">PyrCIPK17</text>
<text transform="translate(371.0 492.12) scale(0.92 1)" font-size="6.5" font-style="italic" fill="#333">PyrCIPK5</text>
<text transform="translate(371.0 507.15) scale(0.92 1)" font-size="6.5" font-style="italic" fill="#333">PyrCIPK14</text>
<text transform="translate(371.0 522.18) scale(0.92 1)" font-size="6.5" font-style="italic" fill="#333">PyrCIPK6</text>
<text transform="translate(371.0 537.21) scale(0.92 1)" font-size="6.5" font-style="italic" fill="#333">PyrCIPK11</text>
<text x="246.30" y="270.00" font-size="7.9" transform="rotate(-45 246.30 270.00)" fill="#111" stroke="#111" stroke-width="0.1">34(DAFB)</text>
<text x="273.70" y="270.00" font-size="7.9" transform="rotate(-45 273.70 270.00)" fill="#111" stroke="#111" stroke-width="0.1">71(DAFB)</text>
<text x="301.10" y="270.00" font-size="7.9" transform="rotate(-45 301.10 270.00)" fill="#111" stroke="#111" stroke-width="0.1">94(DAFB)</text>
<text x="328.40" y="270.00" font-size="7.9" transform="rotate(-45 328.40 270.00)" fill="#111" stroke="#111" stroke-width="0.1">108(DAFB)</text>
<text x="354.70" y="270.00" font-size="7.9" transform="rotate(-45 354.70 270.00)" fill="#111" stroke="#111" stroke-width="0.1">111(DAFB)</text>
<defs><linearGradient id="gD" x1="0" y1="0" x2="0" y2="1">
<stop offset="0" stop-color="#e42828"/>
<stop offset="0.2" stop-color="#e85448"/>
<stop offset="0.33" stop-color="#ec8060"/>
<stop offset="0.42" stop-color="#f0c090"/>
<stop offset="0.48" stop-color="#f0dca0"/>
<stop offset="0.57" stop-color="#c0c4a8"/>
<stop offset="0.63" stop-color="#a8b4ac"/>
<stop offset="0.7" stop-color="#7890b0"/>
<stop offset="0.8" stop-color="#3a66b0"/>
<stop offset="0.9" stop-color="#1e4ea4"/>
<stop offset="1" stop-color="#0a3898"/>
</linearGradient></defs>
<rect x="405.0" y="275.4" width="9.7" height="81.10000000000002" fill="url(#gD)"/>
<line x1="414.70" y1="275.4" x2="414.70" y2="356.5" stroke="#222" stroke-width="0.6"/>
<line x1="414.70" y1="275.40" x2="416.20" y2="275.40" stroke="#222" stroke-width="0.6"/>
<text x="417.0" y="277.64" font-size="6.4" fill="#222">4.00</text>
<line x1="414.70" y1="291.62" x2="416.20" y2="291.62" stroke="#222" stroke-width="0.6"/>
<text x="417.0" y="293.86" font-size="6.4" fill="#222">3.00</text>
<line x1="414.70" y1="307.84" x2="416.20" y2="307.84" stroke="#222" stroke-width="0.6"/>
<text x="417.0" y="310.08" font-size="6.4" fill="#222">2.00</text>
<line x1="414.70" y1="324.06" x2="416.20" y2="324.06" stroke="#222" stroke-width="0.6"/>
<text x="417.0" y="326.30" font-size="6.4" fill="#222">1.00</text>
<line x1="414.70" y1="340.28" x2="416.20" y2="340.28" stroke="#222" stroke-width="0.6"/>
<text x="417.0" y="342.52" font-size="6.4" fill="#222">0.00</text>
<line x1="414.70" y1="356.50" x2="416.20" y2="356.50" stroke="#222" stroke-width="0.6"/>
<text x="417.0" y="358.74" font-size="6.4" fill="#222">-1.00</text>
</svg></body></html>
